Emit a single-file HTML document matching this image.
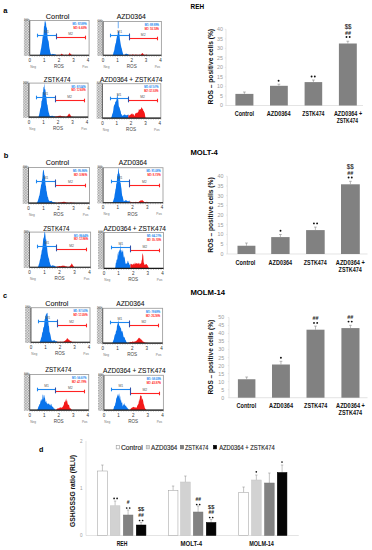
<!DOCTYPE html><html><head><meta charset="utf-8"><style>html,body{margin:0;padding:0;background:#fff;width:372px;height:550px;overflow:hidden;position:relative}svg text{font-family:"Liberation Sans",sans-serif}</style></head><body><svg width="372" height="550" viewBox="0 0 372 550" style="position:absolute;left:0;top:0">
<defs><pattern id="ylab" width="2.8" height="2.6" patternUnits="userSpaceOnUse"><rect width="2.8" height="2.6" fill="#e8e8e8"/><rect x="0.1" y="0.1" width="1.3" height="1.2" fill="#858585"/><rect x="1.5" y="1.4" width="1.2" height="1.1" fill="#909090"/></pattern></defs>
<rect width="372" height="550" fill="#fff"/>
<text x="3.2" y="12.9" font-size="7.8" fill="#000" text-anchor="start" font-weight="bold" textLength="4.2" lengthAdjust="spacingAndGlyphs">a</text>
<text x="3.8" y="158.4" font-size="7.8" fill="#000" text-anchor="start" font-weight="bold" textLength="4.6" lengthAdjust="spacingAndGlyphs">b</text>
<text x="3" y="297.9" font-size="7.8" fill="#000" text-anchor="start" font-weight="bold" textLength="4.1" lengthAdjust="spacingAndGlyphs">c</text>
<text x="38.9" y="451.8" font-size="7.8" fill="#000" text-anchor="start" font-weight="bold" textLength="4.4" lengthAdjust="spacingAndGlyphs">d</text>
<rect x="23.9" y="19" width="5.8" height="36.9" fill="url(#ylab)"/>
<text x="24.1" y="21.1" font-size="2.6" fill="#555" text-anchor="start" font-weight="normal">100</text>
<rect x="29.7" y="20.5" width="59.4" height="34.7" fill="#fff" stroke="#a0a0a0" stroke-width="0.9"/>
<path d="M29.7 55.2 L29.7 55.2 L30.1 55.2 L30.49 55.2 L30.89 55.2 L31.28 55.2 L31.68 55.2 L32.08 55.2 L32.47 55.2 L32.87 55.2 L33.26 55.2 L33.66 55.2 L34.06 55.2 L34.45 55.2 L34.85 55.2 L35.24 55.2 L35.64 55.2 L36.04 55.2 L36.43 55.2 L36.83 55.2 L37.22 55.2 L37.62 55.2 L38.02 55.2 L38.41 55.2 L38.81 55.2 L39.2 55.2 L39.6 55.2 L40 54.02 L40.39 51.71 L40.79 49.47 L41.18 47.94 L41.58 45.06 L41.98 42.65 L42.37 39.3 L42.77 35.9 L43.16 36.39 L43.56 34.19 L43.96 26.46 L44.35 26.12 L44.75 20.58 L45.14 23.83 L45.54 20.8 L45.94 21.7 L46.33 28.27 L46.73 26.57 L47.12 30.02 L47.52 37.33 L47.92 39.81 L48.31 40.38 L48.71 41.87 L49.1 45.91 L49.5 48.44 L49.9 50.21 L50.29 52.47 L50.69 53.77 L51.08 54.41 L51.48 54.44 L51.88 54.21 L52.27 54.2 L52.67 53.84 L53.06 54.04 L53.46 54.04 L53.86 54.26 L54.25 54.12 L54.65 54.42 L55.04 54.5 L55.44 54.56 L55.84 54.59 L56.13 55.12 L56.13 55.2Z" fill="#0a74ec"/>
<path d="M56.13 55.2 L56.13 55.12 L56.23 54.88 L56.63 55.07 L57.02 54.79 L57.42 55.11 L57.82 54.91 L58.21 54.82 L58.61 55 L59 54.97 L59.4 54.94 L59.8 54.79 L60.19 55 L60.59 54.82 L60.98 54.51 L61.38 53.55 L61.78 53.89 L62.17 54.07 L62.57 54.5 L62.96 54.78 L63.36 54.93 L63.76 54.69 L64.15 54.96 L64.55 55.06 L64.94 54.91 L65.34 54.76 L65.74 54.76 L66.13 54.71 L66.53 54.78 L66.92 54.91 L67.32 54.98 L67.72 55.17 L68.11 54.74 L68.51 54.77 L68.9 54.02 L69.3 53.38 L69.7 52.54 L70.09 53.27 L70.49 53.89 L70.88 54.17 L71.28 54.75 L71.68 54.8 L72.07 54.74 L72.47 55.16 L72.86 55.19 L73.26 55.19 L73.66 54.83 L74.05 55.14 L74.45 55.2 L74.84 55.2 L75.24 55.2 L75.64 55.2 L76.03 55.2 L76.43 55.2 L76.82 55.2 L77.22 55.2 L77.62 55.2 L78.01 55.2 L78.41 55.2 L78.8 55.2 L79.2 55.2 L79.6 55.2 L79.99 55.2 L80.39 55.2 L80.78 55.2 L81.18 55.2 L81.58 55.2 L81.97 55.2 L82.37 55.2 L82.76 55.2 L83.16 55.2 L83.56 55.2 L83.95 55.2 L84.35 55.2 L84.74 55.2 L85.14 55.2 L85.54 55.2 L85.93 55.2 L86.33 55.2 L86.72 55.2 L87.12 55.2 L87.52 55.2 L87.91 55.2 L88.31 55.2 L88.7 55.2 L89.1 55.2 L89.1 55.2Z" fill="#f41818"/>
<line x1="29.7" y1="20.5" x2="29.7" y2="55.2" stroke="#505050" stroke-width="0.8"/>
<line x1="29.7" y1="55.2" x2="89.1" y2="55.2" stroke="#1a1a1a" stroke-width="1.1"/>
<path d="M29.7 55.7V56.7M32.17 55.7V56.7M34.65 55.7V56.7M37.12 55.7V56.7M39.6 55.7V56.7M42.07 55.7V56.7M44.55 55.7V56.7M47.02 55.7V56.7M49.5 55.7V56.7M51.97 55.7V56.7M54.45 55.7V56.7M56.92 55.7V56.7M59.4 55.7V56.7M61.88 55.7V56.7M64.35 55.7V56.7M66.82 55.7V56.7M69.3 55.7V56.7M71.77 55.7V56.7M74.25 55.7V56.7M76.72 55.7V56.7M79.2 55.7V56.7M81.67 55.7V56.7M84.15 55.7V56.7M86.62 55.7V56.7M89.1 55.7V56.7" stroke="#555" stroke-width="0.4"/>
<line x1="37.5" y1="35.5" x2="56.5" y2="35.5" stroke="#1e88f0" stroke-width="1.1"/>
<line x1="37.5" y1="33.7" x2="37.5" y2="37.3" stroke="#1e88f0" stroke-width="1.1"/>
<line x1="56.5" y1="37.5" x2="85.5" y2="37.5" stroke="#ff2222" stroke-width="1.1"/>
<line x1="85.5" y1="35.7" x2="85.5" y2="39.3" stroke="#ff2222" stroke-width="1.1"/>
<line x1="56.5" y1="33.5" x2="56.5" y2="39.3" stroke="#3050a8" stroke-width="1.1"/>
<text x="46.63" y="32.9" font-size="3.4" fill="#555" text-anchor="middle" font-weight="normal">M1</text>
<text x="70.54" y="34.9" font-size="3.4" fill="#555" text-anchor="middle" font-weight="normal">M2</text>
<text x="86.7" y="25" font-size="2.9" fill="#1e88f0" text-anchor="end" font-weight="normal" textLength="14.2" lengthAdjust="spacingAndGlyphs" stroke="#1e88f0" stroke-width="0.12">M1: 92.89%</text>
<text x="86.7" y="28.7" font-size="2.9" fill="#ff2222" text-anchor="end" font-weight="normal" textLength="13.2" lengthAdjust="spacingAndGlyphs" stroke="#ff2222" stroke-width="0.12">M2: 6.63%</text>
<text x="29.7" y="61.8" font-size="4.5" fill="#333" text-anchor="middle" font-weight="normal">0</text>
<text x="44.3" y="61.8" font-size="4.5" fill="#333" text-anchor="middle" font-weight="normal">1</text>
<text x="58.9" y="61.8" font-size="4.5" fill="#333" text-anchor="middle" font-weight="normal">2</text>
<text x="73.5" y="61.8" font-size="4.5" fill="#333" text-anchor="middle" font-weight="normal">3</text>
<text x="88.1" y="61.8" font-size="4.5" fill="#333" text-anchor="middle" font-weight="normal">4</text>
<text x="33.1" y="67.6" font-size="3.2" fill="#777" text-anchor="middle" font-weight="normal">Neg</text>
<text x="58.9" y="68" font-size="4.6" fill="#444" text-anchor="middle" font-weight="normal">ROS</text>
<text x="85.1" y="67.6" font-size="3.2" fill="#777" text-anchor="middle" font-weight="normal">Pos</text>
<text x="45.8" y="19.2" font-size="7.8" fill="#111" text-anchor="start" font-weight="normal" textLength="23.6" lengthAdjust="spacingAndGlyphs" stroke="#111" stroke-width="0.08">Control</text>
<rect x="97.3" y="20" width="5.8" height="35.9" fill="url(#ylab)"/>
<text x="97.5" y="22.1" font-size="2.6" fill="#555" text-anchor="start" font-weight="normal">100</text>
<rect x="103.1" y="21.5" width="58.3" height="33.7" fill="#fff" stroke="#a0a0a0" stroke-width="0.9"/>
<path d="M103.1 55.2 L103.1 55.2 L103.49 55.2 L103.88 55.2 L104.27 55.2 L104.65 55.2 L105.04 55.2 L105.43 55.2 L105.82 55.2 L106.21 55.2 L106.6 55.2 L106.99 55.2 L107.38 55.2 L107.76 55.2 L108.15 55.2 L108.54 55.2 L108.93 55.2 L109.32 55.2 L109.71 55.2 L110.1 55.2 L110.48 55.2 L110.87 55.2 L111.26 55.2 L111.65 55.2 L112.04 55.2 L112.43 55.2 L112.82 55 L113.21 53.69 L113.59 52.14 L113.98 51.37 L114.37 49.87 L114.76 46.96 L115.15 45.27 L115.54 43.51 L115.93 42.69 L116.31 39.77 L116.7 37.74 L117.09 35.8 L117.48 35.85 L117.87 32.42 L118.26 30.57 L118.65 30.92 L119.04 31.87 L119.42 34.49 L119.81 38.45 L120.2 40.88 L120.59 43.41 L120.98 45.86 L121.37 47.57 L121.76 48.49 L122.14 50.42 L122.53 51.96 L122.92 53.22 L123.31 54.71 L123.7 54.78 L124.09 54.98 L124.48 54.69 L124.87 54.29 L125.25 54.22 L125.64 53.76 L126.03 53.7 L126.42 53.57 L126.81 53.96 L127.2 53.92 L127.59 54.03 L127.97 54.41 L128.36 54.46 L128.75 54.62 L129.04 55.1 L129.04 55.2Z" fill="#0a74ec"/>
<path d="M129.04 55.2 L129.04 55.1 L129.14 54.89 L129.53 54.55 L129.92 54.89 L130.31 54.78 L130.7 54.71 L131.08 55.05 L131.47 54.98 L131.86 54.77 L132.25 54.62 L132.64 54.61 L133.03 54.52 L133.42 54.86 L133.8 54.75 L134.19 54.99 L134.58 55.06 L134.97 54.82 L135.36 54.82 L135.75 54.62 L136.14 54.63 L136.53 54.75 L136.91 54.78 L137.3 55.05 L137.69 54.67 L138.08 54.82 L138.47 55.03 L138.86 55.06 L139.25 54.62 L139.63 54.77 L140.02 54.96 L140.41 55.08 L140.8 54.69 L141.19 54.13 L141.58 53.87 L141.97 53.44 L142.36 53.34 L142.74 53.11 L143.13 53.79 L143.52 54.41 L143.91 54.62 L144.3 54.75 L144.69 54.97 L145.08 55.18 L145.46 54.9 L145.85 54.65 L146.24 54.55 L146.63 54.59 L147.02 55.2 L147.41 55.2 L147.8 55.2 L148.19 55.2 L148.57 55.2 L148.96 55.2 L149.35 55.2 L149.74 55.2 L150.13 55.2 L150.52 55.2 L150.91 55.2 L151.29 55.2 L151.68 55.2 L152.07 55.2 L152.46 55.2 L152.85 55.2 L153.24 55.2 L153.63 55.2 L154.02 55.2 L154.4 55.2 L154.79 55.2 L155.18 55.2 L155.57 55.2 L155.96 55.2 L156.35 55.2 L156.74 55.2 L157.12 55.2 L157.51 55.2 L157.9 55.2 L158.29 55.2 L158.68 55.2 L159.07 55.2 L159.46 55.2 L159.85 55.2 L160.23 55.2 L160.62 55.2 L161.01 55.2 L161.4 55.2 L161.4 55.2Z" fill="#f41818"/>
<line x1="118.26" y1="21.5" x2="118.26" y2="28.24" stroke="#0a74ec" stroke-width="0.6"/>
<line x1="103.1" y1="21.5" x2="103.1" y2="55.2" stroke="#505050" stroke-width="0.8"/>
<line x1="103.1" y1="55.2" x2="161.4" y2="55.2" stroke="#1a1a1a" stroke-width="1.1"/>
<path d="M103.1 55.7V56.7M105.53 55.7V56.7M107.96 55.7V56.7M110.39 55.7V56.7M112.82 55.7V56.7M115.25 55.7V56.7M117.67 55.7V56.7M120.1 55.7V56.7M122.53 55.7V56.7M124.96 55.7V56.7M127.39 55.7V56.7M129.82 55.7V56.7M132.25 55.7V56.7M134.68 55.7V56.7M137.11 55.7V56.7M139.54 55.7V56.7M141.97 55.7V56.7M144.4 55.7V56.7M146.82 55.7V56.7M149.25 55.7V56.7M151.68 55.7V56.7M154.11 55.7V56.7M156.54 55.7V56.7M158.97 55.7V56.7M161.4 55.7V56.7" stroke="#555" stroke-width="0.4"/>
<line x1="110.5" y1="35.5" x2="129.5" y2="35.5" stroke="#1e88f0" stroke-width="1.1"/>
<line x1="110.5" y1="33.7" x2="110.5" y2="37.3" stroke="#1e88f0" stroke-width="1.1"/>
<line x1="129.5" y1="38.5" x2="157.5" y2="38.5" stroke="#ff2222" stroke-width="1.1"/>
<line x1="157.5" y1="36.7" x2="157.5" y2="40.3" stroke="#ff2222" stroke-width="1.1"/>
<line x1="129.5" y1="33.5" x2="129.5" y2="40.3" stroke="#3050a8" stroke-width="1.1"/>
<text x="119.72" y="32.9" font-size="3.4" fill="#555" text-anchor="middle" font-weight="normal">M1</text>
<text x="143.18" y="35.9" font-size="3.4" fill="#555" text-anchor="middle" font-weight="normal">M2</text>
<text x="159" y="26" font-size="2.9" fill="#1e88f0" text-anchor="end" font-weight="normal" textLength="14.2" lengthAdjust="spacingAndGlyphs" stroke="#1e88f0" stroke-width="0.12">M1: 89.89%</text>
<text x="159" y="29.7" font-size="2.9" fill="#ff2222" text-anchor="end" font-weight="normal" textLength="14.2" lengthAdjust="spacingAndGlyphs" stroke="#ff2222" stroke-width="0.12">M2: 10.10%</text>
<text x="103.1" y="61.8" font-size="4.5" fill="#333" text-anchor="middle" font-weight="normal">0</text>
<text x="117.42" y="61.8" font-size="4.5" fill="#333" text-anchor="middle" font-weight="normal">1</text>
<text x="131.75" y="61.8" font-size="4.5" fill="#333" text-anchor="middle" font-weight="normal">2</text>
<text x="146.07" y="61.8" font-size="4.5" fill="#333" text-anchor="middle" font-weight="normal">3</text>
<text x="160.4" y="61.8" font-size="4.5" fill="#333" text-anchor="middle" font-weight="normal">4</text>
<text x="106.5" y="67.6" font-size="3.2" fill="#777" text-anchor="middle" font-weight="normal">Neg</text>
<text x="131.75" y="68" font-size="4.6" fill="#444" text-anchor="middle" font-weight="normal">ROS</text>
<text x="157.4" y="67.6" font-size="3.2" fill="#777" text-anchor="middle" font-weight="normal">Pos</text>
<text x="116.8" y="19.3" font-size="7.8" fill="#111" text-anchor="start" font-weight="normal" textLength="29" lengthAdjust="spacingAndGlyphs" stroke="#111" stroke-width="0.08">AZD0364</text>
<rect x="23.1" y="81.6" width="5.8" height="36.2" fill="url(#ylab)"/>
<text x="23.3" y="83.7" font-size="2.6" fill="#555" text-anchor="start" font-weight="normal">100</text>
<rect x="28.9" y="83.1" width="59.2" height="34" fill="#fff" stroke="#a0a0a0" stroke-width="0.9"/>
<path d="M28.9 117.1 L28.9 117.1 L29.29 117.1 L29.69 117.1 L30.08 117.1 L30.48 117.1 L30.87 117.1 L31.27 117.1 L31.66 117.1 L32.06 117.1 L32.45 117.1 L32.85 117.1 L33.24 117.1 L33.64 117.1 L34.03 117.1 L34.43 117.1 L34.82 117.1 L35.21 117.1 L35.61 117.1 L36 117.1 L36.4 117.1 L36.79 117.1 L37.19 117.1 L37.58 117.1 L37.98 117.1 L38.37 117.1 L38.77 116.05 L39.16 114.41 L39.56 112.83 L39.95 110.62 L40.35 108.49 L40.74 107.7 L41.13 105.87 L41.53 100.85 L41.92 100.69 L42.32 98.5 L42.71 92.06 L43.11 92.33 L43.5 87.29 L43.9 87.02 L44.29 83.1 L44.69 89.51 L45.08 88.92 L45.48 90.39 L45.87 95.13 L46.27 96.77 L46.66 99.76 L47.05 104.41 L47.45 104.6 L47.84 107.43 L48.24 110.15 L48.63 112.37 L49.03 113.26 L49.42 115.18 L49.82 115.83 L50.21 115.94 L50.61 116.08 L51 115.89 L51.4 115.75 L51.79 116.08 L52.19 115.54 L52.58 115.92 L52.97 116.08 L53.37 116.25 L53.76 116.13 L54.16 116.17 L54.55 116.14 L54.95 116.5 L55.24 116.93 L55.24 117.1Z" fill="#0a74ec"/>
<path d="M55.24 117.1 L55.24 116.93 L55.34 116.27 L55.74 116.29 L56.13 116.4 L56.53 116.18 L56.92 116.55 L57.32 115.9 L57.71 116.42 L58.11 116.25 L58.5 116.11 L58.89 115.85 L59.29 115.94 L59.68 115.71 L60.08 115.32 L60.47 115.68 L60.87 116.15 L61.26 116.06 L61.66 116.29 L62.05 116.16 L62.45 116.49 L62.84 116.36 L63.24 116.14 L63.63 116.48 L64.03 116.42 L64.42 116.56 L64.81 116.39 L65.21 116.81 L65.6 116.64 L66 116.9 L66.39 116.41 L66.79 116.46 L67.18 116.05 L67.58 115.86 L67.97 115.23 L68.37 114.54 L68.76 114.08 L69.16 113.21 L69.55 114.4 L69.95 113.94 L70.34 115.15 L70.73 115.53 L71.13 116.18 L71.52 116.58 L71.92 116.9 L72.31 116.84 L72.71 116.63 L73.1 116.69 L73.5 117.1 L73.89 117.1 L74.29 117.1 L74.68 117.1 L75.08 117.1 L75.47 117.1 L75.87 117.1 L76.26 117.1 L76.65 117.1 L77.05 117.1 L77.44 117.1 L77.84 117.1 L78.23 117.1 L78.63 117.1 L79.02 117.1 L79.42 117.1 L79.81 117.1 L80.21 117.1 L80.6 117.1 L81 117.1 L81.39 117.1 L81.79 117.1 L82.18 117.1 L82.57 117.1 L82.97 117.1 L83.36 117.1 L83.76 117.1 L84.15 117.1 L84.55 117.1 L84.94 117.1 L85.34 117.1 L85.73 117.1 L86.13 117.1 L86.52 117.1 L86.92 117.1 L87.31 117.1 L87.71 117.1 L88.1 117.1 L88.1 117.1Z" fill="#f41818"/>
<line x1="28.9" y1="83.1" x2="28.9" y2="117.1" stroke="#505050" stroke-width="0.8"/>
<line x1="28.9" y1="117.1" x2="88.1" y2="117.1" stroke="#1a1a1a" stroke-width="1.1"/>
<path d="M28.9 117.6V118.6M31.37 117.6V118.6M33.83 117.6V118.6M36.3 117.6V118.6M38.77 117.6V118.6M41.23 117.6V118.6M43.7 117.6V118.6M46.17 117.6V118.6M48.63 117.6V118.6M51.1 117.6V118.6M53.57 117.6V118.6M56.03 117.6V118.6M58.5 117.6V118.6M60.97 117.6V118.6M63.43 117.6V118.6M65.9 117.6V118.6M68.37 117.6V118.6M70.83 117.6V118.6M73.3 117.6V118.6M75.77 117.6V118.6M78.23 117.6V118.6M80.7 117.6V118.6M83.17 117.6V118.6M85.63 117.6V118.6M88.1 117.6V118.6" stroke="#555" stroke-width="0.4"/>
<line x1="36.5" y1="97.5" x2="55.5" y2="97.5" stroke="#1e88f0" stroke-width="1.1"/>
<line x1="36.5" y1="95.7" x2="36.5" y2="99.3" stroke="#1e88f0" stroke-width="1.1"/>
<line x1="55.5" y1="100.5" x2="84.5" y2="100.5" stroke="#ff2222" stroke-width="1.1"/>
<line x1="84.5" y1="98.7" x2="84.5" y2="102.3" stroke="#ff2222" stroke-width="1.1"/>
<line x1="55.5" y1="95.5" x2="55.5" y2="102.3" stroke="#3050a8" stroke-width="1.1"/>
<text x="45.77" y="94.9" font-size="3.4" fill="#555" text-anchor="middle" font-weight="normal">M1</text>
<text x="69.6" y="97.9" font-size="3.4" fill="#555" text-anchor="middle" font-weight="normal">M2</text>
<text x="85.7" y="87.6" font-size="2.9" fill="#1e88f0" text-anchor="end" font-weight="normal" textLength="14.2" lengthAdjust="spacingAndGlyphs" stroke="#1e88f0" stroke-width="0.12">M1: 87.04%</text>
<text x="85.7" y="91.3" font-size="2.9" fill="#ff2222" text-anchor="end" font-weight="normal" textLength="14.2" lengthAdjust="spacingAndGlyphs" stroke="#ff2222" stroke-width="0.12">M2: 12.63%</text>
<text x="28.9" y="123.7" font-size="4.5" fill="#333" text-anchor="middle" font-weight="normal">0</text>
<text x="43.45" y="123.7" font-size="4.5" fill="#333" text-anchor="middle" font-weight="normal">1</text>
<text x="58" y="123.7" font-size="4.5" fill="#333" text-anchor="middle" font-weight="normal">2</text>
<text x="72.55" y="123.7" font-size="4.5" fill="#333" text-anchor="middle" font-weight="normal">3</text>
<text x="87.1" y="123.7" font-size="4.5" fill="#333" text-anchor="middle" font-weight="normal">4</text>
<text x="32.3" y="129.5" font-size="3.2" fill="#777" text-anchor="middle" font-weight="normal">Neg</text>
<text x="58" y="129.9" font-size="4.6" fill="#444" text-anchor="middle" font-weight="normal">ROS</text>
<text x="84.1" y="129.5" font-size="3.2" fill="#777" text-anchor="middle" font-weight="normal">Pos</text>
<text x="43.8" y="81.7" font-size="7.8" fill="#111" text-anchor="start" font-weight="normal" textLength="26.6" lengthAdjust="spacingAndGlyphs" stroke="#111" stroke-width="0.08">ZSTK474</text>
<rect x="96.6" y="82.2" width="5.8" height="36.6" fill="url(#ylab)"/>
<text x="96.8" y="84.3" font-size="2.6" fill="#555" text-anchor="start" font-weight="normal">100</text>
<rect x="102.4" y="83.7" width="58.4" height="34.4" fill="#fff" stroke="#a0a0a0" stroke-width="0.9"/>
<path d="M102.4 118.1 L102.4 118.1 L102.79 118.1 L103.18 118.1 L103.57 118.1 L103.96 118.1 L104.35 118.1 L104.74 118.1 L105.13 118.1 L105.51 118.1 L105.9 118.1 L106.29 118.1 L106.68 118.1 L107.07 118.1 L107.46 118.1 L107.85 118.1 L108.24 118.1 L108.63 118.1 L109.02 118.1 L109.41 118.1 L109.8 118.1 L110.19 118.1 L110.58 118.1 L110.97 118.1 L111.35 117.19 L111.74 116.13 L112.13 114.51 L112.52 113.62 L112.91 112.57 L113.3 110.2 L113.69 106.7 L114.08 105.39 L114.47 103.79 L114.86 105.17 L115.25 101.68 L115.64 101.87 L116.03 101.17 L116.42 100.28 L116.81 97.87 L117.19 93.08 L117.58 96.09 L117.97 98.39 L118.36 100.53 L118.75 105.97 L119.14 107.01 L119.53 107.39 L119.92 108.91 L120.31 110.49 L120.7 111.35 L121.09 113.9 L121.48 114.12 L121.87 115.28 L122.26 115.55 L122.65 115.73 L123.03 115.7 L123.42 114.66 L123.81 115.23 L124.2 114.78 L124.59 114.3 L124.98 114.79 L125.37 114.85 L125.76 115.13 L126.15 115.58 L126.54 115.02 L126.93 115.3 L127.32 115.12 L127.71 114.86 L128.1 114.72 L128.39 114.36 L128.39 118.1Z" fill="#0a74ec"/>
<path d="M128.39 118.1 L128.39 114.36 L128.49 114.78 L128.87 115.31 L129.26 115.21 L129.65 115.51 L130.04 115.15 L130.43 114.4 L130.82 114.61 L131.21 114.22 L131.6 113.65 L131.99 113.41 L132.38 113.6 L132.77 114.78 L133.16 114.28 L133.55 114.28 L133.94 114.67 L134.33 115.63 L134.71 115.9 L135.1 112.91 L135.49 113.95 L135.88 113.23 L136.27 112.6 L136.66 113.4 L137.05 112.56 L137.44 113 L137.83 112.34 L138.22 112.04 L138.61 110.69 L139 108.73 L139.39 109.83 L139.78 109.9 L140.17 109.34 L140.55 109.27 L140.94 108.94 L141.33 106.83 L141.72 108.06 L142.11 108.79 L142.5 109.56 L142.89 107.79 L143.28 111.35 L143.67 110.5 L144.06 111.87 L144.45 112.38 L144.84 113.69 L145.23 116.6 L145.62 118.1 L146.01 118.1 L146.39 118.1 L146.78 118.1 L147.17 118.1 L147.56 118.1 L147.95 118.1 L148.34 118.1 L148.73 118.1 L149.12 118.1 L149.51 118.1 L149.9 118.1 L150.29 118.1 L150.68 118.1 L151.07 118.1 L151.46 118.1 L151.85 118.1 L152.23 118.1 L152.62 118.1 L153.01 118.1 L153.4 118.1 L153.79 118.1 L154.18 118.1 L154.57 118.1 L154.96 118.1 L155.35 118.1 L155.74 118.1 L156.13 118.1 L156.52 118.1 L156.91 118.1 L157.3 118.1 L157.69 118.1 L158.07 118.1 L158.46 118.1 L158.85 118.1 L159.24 118.1 L159.63 118.1 L160.02 118.1 L160.41 118.1 L160.8 118.1 L160.8 118.1Z" fill="#f41818"/>
<line x1="102.4" y1="83.7" x2="102.4" y2="118.1" stroke="#505050" stroke-width="0.8"/>
<line x1="102.4" y1="118.1" x2="160.8" y2="118.1" stroke="#1a1a1a" stroke-width="1.1"/>
<path d="M102.4 118.6V119.6M104.83 118.6V119.6M107.27 118.6V119.6M109.7 118.6V119.6M112.13 118.6V119.6M114.57 118.6V119.6M117 118.6V119.6M119.43 118.6V119.6M121.87 118.6V119.6M124.3 118.6V119.6M126.73 118.6V119.6M129.17 118.6V119.6M131.6 118.6V119.6M134.03 118.6V119.6M136.47 118.6V119.6M138.9 118.6V119.6M141.33 118.6V119.6M143.77 118.6V119.6M146.2 118.6V119.6M148.63 118.6V119.6M151.07 118.6V119.6M153.5 118.6V119.6M155.93 118.6V119.6M158.37 118.6V119.6M160.8 118.6V119.6" stroke="#555" stroke-width="0.4"/>
<line x1="110.5" y1="98.5" x2="128.5" y2="98.5" stroke="#1e88f0" stroke-width="1.1"/>
<line x1="110.5" y1="96.7" x2="110.5" y2="100.3" stroke="#1e88f0" stroke-width="1.1"/>
<line x1="128.5" y1="100.5" x2="157.5" y2="100.5" stroke="#ff2222" stroke-width="1.1"/>
<line x1="157.5" y1="98.7" x2="157.5" y2="102.3" stroke="#ff2222" stroke-width="1.1"/>
<line x1="128.5" y1="96.5" x2="128.5" y2="102.3" stroke="#3050a8" stroke-width="1.1"/>
<text x="119.04" y="95.9" font-size="3.4" fill="#555" text-anchor="middle" font-weight="normal">M1</text>
<text x="142.55" y="97.9" font-size="3.4" fill="#555" text-anchor="middle" font-weight="normal">M2</text>
<text x="158.4" y="88.2" font-size="2.9" fill="#1e88f0" text-anchor="end" font-weight="normal" textLength="14.2" lengthAdjust="spacingAndGlyphs" stroke="#1e88f0" stroke-width="0.12">M1: 67.57%</text>
<text x="158.4" y="91.9" font-size="2.9" fill="#ff2222" text-anchor="end" font-weight="normal" textLength="14.2" lengthAdjust="spacingAndGlyphs" stroke="#ff2222" stroke-width="0.12">M2: 32.53%</text>
<text x="102.4" y="124.7" font-size="4.5" fill="#333" text-anchor="middle" font-weight="normal">0</text>
<text x="116.75" y="124.7" font-size="4.5" fill="#333" text-anchor="middle" font-weight="normal">1</text>
<text x="131.1" y="124.7" font-size="4.5" fill="#333" text-anchor="middle" font-weight="normal">2</text>
<text x="145.45" y="124.7" font-size="4.5" fill="#333" text-anchor="middle" font-weight="normal">3</text>
<text x="159.8" y="124.7" font-size="4.5" fill="#333" text-anchor="middle" font-weight="normal">4</text>
<text x="105.8" y="130.5" font-size="3.2" fill="#777" text-anchor="middle" font-weight="normal">Neg</text>
<text x="131.1" y="130.9" font-size="4.6" fill="#444" text-anchor="middle" font-weight="normal">ROS</text>
<text x="156.8" y="130.5" font-size="3.2" fill="#777" text-anchor="middle" font-weight="normal">Pos</text>
<text x="100" y="81.9" font-size="7.8" fill="#111" text-anchor="start" font-weight="normal" textLength="62.5" lengthAdjust="spacingAndGlyphs" stroke="#111" stroke-width="0.08">AZD0364 + ZSTK474</text>
<rect x="22.7" y="166" width="5.8" height="37.8" fill="url(#ylab)"/>
<text x="22.9" y="168.1" font-size="2.6" fill="#555" text-anchor="start" font-weight="normal">100</text>
<rect x="28.5" y="167.5" width="61" height="35.6" fill="#fff" stroke="#a0a0a0" stroke-width="0.9"/>
<path d="M28.5 203.1 L28.5 203.1 L28.91 203.1 L29.31 203.1 L29.72 203.1 L30.13 203.1 L30.53 203.1 L30.94 203.1 L31.35 203.1 L31.75 203.1 L32.16 203.1 L32.57 203.1 L32.97 203.1 L33.38 203.1 L33.79 203.1 L34.19 203.1 L34.6 203.1 L35.01 203.1 L35.41 203.1 L35.82 203.1 L36.23 203.1 L36.63 202.94 L37.04 202.45 L37.45 201.67 L37.85 200.63 L38.26 199.26 L38.67 197.93 L39.07 196 L39.48 195.53 L39.89 192.8 L40.29 189.42 L40.7 187.71 L41.11 184.18 L41.51 184.41 L41.92 180.07 L42.33 178.16 L42.73 173.31 L43.14 169.65 L43.55 170.1 L43.95 171.59 L44.36 174.93 L44.77 175.2 L45.17 179.65 L45.58 185.29 L45.99 185.92 L46.39 190.52 L46.8 191.7 L47.21 194.8 L47.61 196.75 L48.02 197.3 L48.43 199.32 L48.83 200.35 L49.24 200.77 L49.65 201.31 L50.05 201.13 L50.46 200.91 L50.87 201.1 L51.27 200.86 L51.68 201.12 L52.09 201.66 L52.49 201.95 L52.9 201.84 L53.31 202.18 L53.71 202.15 L54.12 201.91 L54.53 202.4 L54.93 202.33 L55.34 202.29 L55.64 203 L55.64 203.1Z" fill="#0a74ec"/>
<path d="M55.64 203.1 L55.64 203 L55.75 202.46 L56.15 203.09 L56.56 202.55 L56.97 202.73 L57.37 203.07 L57.78 202.97 L58.19 202.46 L58.59 202.52 L59 202.45 L59.41 202.75 L59.81 202.51 L60.22 202.72 L60.63 202.08 L61.03 202.55 L61.44 202.49 L61.85 201.91 L62.25 202.01 L62.66 201.9 L63.07 202 L63.47 202.08 L63.88 201.46 L64.29 202.17 L64.69 201.58 L65.1 202.15 L65.51 201.99 L65.91 202.27 L66.32 202.59 L66.73 202.74 L67.13 202.47 L67.54 202.86 L67.95 202.48 L68.35 202.63 L68.76 203.02 L69.17 202.79 L69.57 202.99 L69.98 202.52 L70.39 202.78 L70.79 202.34 L71.2 202.41 L71.61 202.75 L72.01 202.58 L72.42 202.89 L72.83 202.81 L73.23 203 L73.64 202.83 L74.05 202.33 L74.45 203.1 L74.86 203.1 L75.27 203.1 L75.67 203.1 L76.08 203.1 L76.49 203.1 L76.89 203.1 L77.3 203.1 L77.71 203.1 L78.11 203.1 L78.52 203.1 L78.93 203.1 L79.33 203.1 L79.74 203.1 L80.15 203.1 L80.55 203.1 L80.96 203.1 L81.37 203.1 L81.77 203.1 L82.18 203.1 L82.59 203.1 L82.99 203.1 L83.4 203.1 L83.81 203.1 L84.21 203.1 L84.62 203.1 L85.03 203.1 L85.43 203.1 L85.84 203.1 L86.25 203.1 L86.65 203.1 L87.06 203.1 L87.47 203.1 L87.87 203.1 L88.28 203.1 L88.69 203.1 L89.09 203.1 L89.5 203.1 L89.5 203.1Z" fill="#f41818"/>
<line x1="28.5" y1="167.5" x2="28.5" y2="203.1" stroke="#505050" stroke-width="0.8"/>
<line x1="28.5" y1="203.1" x2="89.5" y2="203.1" stroke="#1a1a1a" stroke-width="1.1"/>
<path d="M28.5 203.6V204.6M31.04 203.6V204.6M33.58 203.6V204.6M36.12 203.6V204.6M38.67 203.6V204.6M41.21 203.6V204.6M43.75 203.6V204.6M46.29 203.6V204.6M48.83 203.6V204.6M51.38 203.6V204.6M53.92 203.6V204.6M56.46 203.6V204.6M59 203.6V204.6M61.54 203.6V204.6M64.08 203.6V204.6M66.62 203.6V204.6M69.17 203.6V204.6M71.71 203.6V204.6M74.25 203.6V204.6M76.79 203.6V204.6M79.33 203.6V204.6M81.88 203.6V204.6M84.42 203.6V204.6M86.96 203.6V204.6M89.5 203.6V204.6" stroke="#555" stroke-width="0.4"/>
<line x1="36.5" y1="181.5" x2="55.5" y2="181.5" stroke="#1e88f0" stroke-width="1.1"/>
<line x1="36.5" y1="179.7" x2="36.5" y2="183.3" stroke="#1e88f0" stroke-width="1.1"/>
<line x1="55.5" y1="185.5" x2="85.5" y2="185.5" stroke="#ff2222" stroke-width="1.1"/>
<line x1="85.5" y1="183.7" x2="85.5" y2="187.3" stroke="#ff2222" stroke-width="1.1"/>
<line x1="55.5" y1="179.5" x2="55.5" y2="187.3" stroke="#3050a8" stroke-width="1.1"/>
<text x="45.88" y="178.9" font-size="3.4" fill="#555" text-anchor="middle" font-weight="normal">M1</text>
<text x="70.44" y="182.9" font-size="3.4" fill="#555" text-anchor="middle" font-weight="normal">M2</text>
<text x="87.1" y="172" font-size="2.9" fill="#1e88f0" text-anchor="end" font-weight="normal" textLength="14.2" lengthAdjust="spacingAndGlyphs" stroke="#1e88f0" stroke-width="0.12">M1: 95.96%</text>
<text x="87.1" y="175.7" font-size="2.9" fill="#ff2222" text-anchor="end" font-weight="normal" textLength="13.2" lengthAdjust="spacingAndGlyphs" stroke="#ff2222" stroke-width="0.12">M2: 3.96%</text>
<text x="28.5" y="209.7" font-size="4.5" fill="#333" text-anchor="middle" font-weight="normal">0</text>
<text x="43.5" y="209.7" font-size="4.5" fill="#333" text-anchor="middle" font-weight="normal">1</text>
<text x="58.5" y="209.7" font-size="4.5" fill="#333" text-anchor="middle" font-weight="normal">2</text>
<text x="73.5" y="209.7" font-size="4.5" fill="#333" text-anchor="middle" font-weight="normal">3</text>
<text x="88.5" y="209.7" font-size="4.5" fill="#333" text-anchor="middle" font-weight="normal">4</text>
<text x="31.9" y="215.5" font-size="3.2" fill="#777" text-anchor="middle" font-weight="normal">Neg</text>
<text x="58.5" y="215.9" font-size="4.6" fill="#444" text-anchor="middle" font-weight="normal">ROS</text>
<text x="85.5" y="215.5" font-size="3.2" fill="#777" text-anchor="middle" font-weight="normal">Pos</text>
<text x="45.8" y="164.9" font-size="7.8" fill="#111" text-anchor="start" font-weight="normal" textLength="23.2" lengthAdjust="spacingAndGlyphs" stroke="#111" stroke-width="0.08">Control</text>
<rect x="97.3" y="166.2" width="5.8" height="37.2" fill="url(#ylab)"/>
<text x="97.5" y="168.3" font-size="2.6" fill="#555" text-anchor="start" font-weight="normal">100</text>
<rect x="103.1" y="167.7" width="59.9" height="35" fill="#fff" stroke="#a0a0a0" stroke-width="0.9"/>
<path d="M103.1 202.7 L103.1 202.7 L103.5 202.7 L103.9 202.7 L104.3 202.7 L104.7 202.7 L105.1 202.7 L105.5 202.7 L105.9 202.7 L106.29 202.7 L106.69 202.7 L107.09 202.7 L107.49 202.7 L107.89 202.7 L108.29 202.7 L108.69 202.7 L109.09 202.7 L109.49 202.7 L109.89 202.7 L110.29 202.7 L110.69 202.7 L111.09 202.7 L111.49 202.7 L111.89 202.7 L112.28 202.7 L112.68 202.29 L113.08 201.22 L113.48 200.06 L113.88 198.77 L114.28 197.57 L114.68 194.28 L115.08 192.58 L115.48 189.16 L115.88 188.2 L116.28 183.53 L116.68 183.57 L117.08 177.12 L117.48 174.36 L117.88 173.77 L118.27 169.33 L118.67 167.7 L119.07 173.26 L119.47 173.62 L119.87 175.45 L120.27 182.72 L120.67 182.73 L121.07 186.52 L121.47 188.86 L121.87 193.21 L122.27 195.98 L122.67 196.61 L123.07 198.53 L123.47 200.34 L123.87 201.43 L124.26 201.11 L124.66 200.71 L125.06 200.7 L125.46 200.4 L125.86 199.75 L126.26 200.55 L126.66 200.39 L127.06 200.75 L127.46 201.16 L127.86 201.36 L128.26 201.45 L128.66 201.01 L129.06 200.45 L129.46 200.83 L129.76 201.47 L129.76 202.7Z" fill="#0a74ec"/>
<path d="M129.76 202.7 L129.76 201.47 L129.86 201.59 L130.25 201.23 L130.65 202.64 L131.05 202 L131.45 202.35 L131.85 201.72 L132.25 202.38 L132.65 202.32 L133.05 202.57 L133.45 201.79 L133.85 202.22 L134.25 202.22 L134.65 202.44 L135.05 201.55 L135.45 201.91 L135.85 202.18 L136.24 201.86 L136.64 202.18 L137.04 202.32 L137.44 201.97 L137.84 201.96 L138.24 202.21 L138.64 201.93 L139.04 201.57 L139.44 200.96 L139.84 201.19 L140.24 200.18 L140.64 200.7 L141.04 200.5 L141.44 200.43 L141.84 200.2 L142.23 200.12 L142.63 200.47 L143.03 201.04 L143.43 201.39 L143.83 201 L144.23 202.06 L144.63 202.1 L145.03 202.67 L145.43 201.98 L145.83 201.98 L146.23 201.61 L146.63 202.63 L147.03 202.5 L147.43 201.67 L147.83 202.22 L148.22 202.7 L148.62 202.7 L149.02 202.7 L149.42 202.7 L149.82 202.7 L150.22 202.7 L150.62 202.7 L151.02 202.7 L151.42 202.7 L151.82 202.7 L152.22 202.7 L152.62 202.7 L153.02 202.7 L153.42 202.7 L153.82 202.7 L154.21 202.7 L154.61 202.7 L155.01 202.7 L155.41 202.7 L155.81 202.7 L156.21 202.7 L156.61 202.7 L157.01 202.7 L157.41 202.7 L157.81 202.7 L158.21 202.7 L158.61 202.7 L159.01 202.7 L159.41 202.7 L159.81 202.7 L160.2 202.7 L160.6 202.7 L161 202.7 L161.4 202.7 L161.8 202.7 L162.2 202.7 L162.6 202.7 L163 202.7 L163 202.7Z" fill="#f41818"/>
<line x1="103.1" y1="167.7" x2="103.1" y2="202.7" stroke="#505050" stroke-width="0.8"/>
<line x1="103.1" y1="202.7" x2="163" y2="202.7" stroke="#1a1a1a" stroke-width="1.1"/>
<path d="M103.1 203.2V204.2M105.6 203.2V204.2M108.09 203.2V204.2M110.59 203.2V204.2M113.08 203.2V204.2M115.58 203.2V204.2M118.07 203.2V204.2M120.57 203.2V204.2M123.07 203.2V204.2M125.56 203.2V204.2M128.06 203.2V204.2M130.55 203.2V204.2M133.05 203.2V204.2M135.55 203.2V204.2M138.04 203.2V204.2M140.54 203.2V204.2M143.03 203.2V204.2M145.53 203.2V204.2M148.03 203.2V204.2M150.52 203.2V204.2M153.02 203.2V204.2M155.51 203.2V204.2M158.01 203.2V204.2M160.5 203.2V204.2M163 203.2V204.2" stroke="#555" stroke-width="0.4"/>
<line x1="111.5" y1="181.5" x2="129.5" y2="181.5" stroke="#1e88f0" stroke-width="1.1"/>
<line x1="111.5" y1="179.7" x2="111.5" y2="183.3" stroke="#1e88f0" stroke-width="1.1"/>
<line x1="129.5" y1="185.5" x2="159.5" y2="185.5" stroke="#ff2222" stroke-width="1.1"/>
<line x1="159.5" y1="183.7" x2="159.5" y2="187.3" stroke="#ff2222" stroke-width="1.1"/>
<line x1="129.5" y1="179.5" x2="129.5" y2="187.3" stroke="#3050a8" stroke-width="1.1"/>
<text x="120.17" y="178.9" font-size="3.4" fill="#555" text-anchor="middle" font-weight="normal">M1</text>
<text x="144.28" y="182.9" font-size="3.4" fill="#555" text-anchor="middle" font-weight="normal">M2</text>
<text x="160.6" y="172.2" font-size="2.9" fill="#1e88f0" text-anchor="end" font-weight="normal" textLength="14.2" lengthAdjust="spacingAndGlyphs" stroke="#1e88f0" stroke-width="0.12">M1: 91.08%</text>
<text x="160.6" y="175.9" font-size="2.9" fill="#ff2222" text-anchor="end" font-weight="normal" textLength="13.2" lengthAdjust="spacingAndGlyphs" stroke="#ff2222" stroke-width="0.12">M2: 8.73%</text>
<text x="103.1" y="209.3" font-size="4.5" fill="#333" text-anchor="middle" font-weight="normal">0</text>
<text x="117.82" y="209.3" font-size="4.5" fill="#333" text-anchor="middle" font-weight="normal">1</text>
<text x="132.55" y="209.3" font-size="4.5" fill="#333" text-anchor="middle" font-weight="normal">2</text>
<text x="147.28" y="209.3" font-size="4.5" fill="#333" text-anchor="middle" font-weight="normal">3</text>
<text x="162" y="209.3" font-size="4.5" fill="#333" text-anchor="middle" font-weight="normal">4</text>
<text x="106.5" y="215.1" font-size="3.2" fill="#777" text-anchor="middle" font-weight="normal">Neg</text>
<text x="132.55" y="215.5" font-size="4.6" fill="#444" text-anchor="middle" font-weight="normal">ROS</text>
<text x="159" y="215.1" font-size="3.2" fill="#777" text-anchor="middle" font-weight="normal">Pos</text>
<text x="118.8" y="165.3" font-size="7.8" fill="#111" text-anchor="start" font-weight="normal" textLength="28.2" lengthAdjust="spacingAndGlyphs" stroke="#111" stroke-width="0.08">AZD0364</text>
<rect x="23.7" y="230.6" width="5.8" height="37.4" fill="url(#ylab)"/>
<text x="23.9" y="232.7" font-size="2.6" fill="#555" text-anchor="start" font-weight="normal">100</text>
<rect x="29.5" y="232.1" width="61.1" height="35.2" fill="#fff" stroke="#a0a0a0" stroke-width="0.9"/>
<path d="M29.5 267.3 L29.5 267.3 L29.91 267.3 L30.31 267.3 L30.72 267.3 L31.13 267.3 L31.54 267.3 L31.94 267.3 L32.35 267.3 L32.76 267.3 L33.17 267.3 L33.57 267.3 L33.98 267.3 L34.39 267.3 L34.8 267.3 L35.2 267.3 L35.61 267.3 L36.02 267.3 L36.42 267.3 L36.83 267.3 L37.24 267.3 L37.65 267.28 L38.05 266.69 L38.46 265.79 L38.87 264.26 L39.28 263.31 L39.68 261.09 L40.09 259.52 L40.5 258.28 L40.91 254.99 L41.31 254.3 L41.72 250.48 L42.13 249.64 L42.53 247.1 L42.94 242.53 L43.35 236.92 L43.76 238.91 L44.16 235.22 L44.57 232.1 L44.98 232.1 L45.39 235.13 L45.79 239.69 L46.2 239.25 L46.61 247.56 L47.02 246.38 L47.42 251.51 L47.83 254.35 L48.24 256.54 L48.64 258.05 L49.05 259 L49.46 261.82 L49.87 262.85 L50.27 264.16 L50.68 265.35 L51.09 265.79 L51.5 265.92 L51.9 265.38 L52.31 265.37 L52.72 265.49 L53.13 265.26 L53.53 265.75 L53.94 265.63 L54.35 265.87 L54.75 265.93 L55.16 266.16 L55.57 266.5 L55.98 266.67 L56.38 266.43 L56.69 266.95 L56.69 267.3Z" fill="#0a74ec"/>
<path d="M56.69 267.3 L56.69 266.95 L56.79 266.55 L57.2 266.45 L57.61 266.48 L58.01 266.13 L58.42 266.28 L58.83 266.4 L59.24 265.9 L59.64 265.95 L60.05 265.98 L60.46 266.17 L60.86 266.13 L61.27 265.93 L61.68 266 L62.09 265.58 L62.49 265.89 L62.9 265.53 L63.31 265.44 L63.72 265.97 L64.12 265.84 L64.53 265.85 L64.94 266.27 L65.35 266.25 L65.75 266.21 L66.16 266.56 L66.57 266.45 L66.97 266.24 L67.38 266.67 L67.79 266.98 L68.2 266.79 L68.6 266.81 L69.01 266.91 L69.42 266.61 L69.83 266.29 L70.23 265.71 L70.64 265.2 L71.05 264.79 L71.46 264.02 L71.86 263.18 L72.27 264.29 L72.68 265.06 L73.08 265.79 L73.49 265.91 L73.9 266.84 L74.31 267.25 L74.71 267.25 L75.12 267.12 L75.53 267.3 L75.94 267.3 L76.34 267.3 L76.75 267.3 L77.16 267.3 L77.57 267.3 L77.97 267.3 L78.38 267.3 L78.79 267.3 L79.19 267.3 L79.6 267.3 L80.01 267.3 L80.42 267.3 L80.82 267.3 L81.23 267.3 L81.64 267.3 L82.05 267.3 L82.45 267.3 L82.86 267.3 L83.27 267.3 L83.68 267.3 L84.08 267.3 L84.49 267.3 L84.9 267.3 L85.3 267.3 L85.71 267.3 L86.12 267.3 L86.53 267.3 L86.93 267.3 L87.34 267.3 L87.75 267.3 L88.16 267.3 L88.56 267.3 L88.97 267.3 L89.38 267.3 L89.79 267.3 L90.19 267.3 L90.6 267.3 L90.6 267.3Z" fill="#f41818"/>
<line x1="29.5" y1="232.1" x2="29.5" y2="267.3" stroke="#505050" stroke-width="0.8"/>
<line x1="29.5" y1="267.3" x2="90.6" y2="267.3" stroke="#1a1a1a" stroke-width="1.1"/>
<path d="M29.5 267.8V268.8M32.05 267.8V268.8M34.59 267.8V268.8M37.14 267.8V268.8M39.68 267.8V268.8M42.23 267.8V268.8M44.77 267.8V268.8M47.32 267.8V268.8M49.87 267.8V268.8M52.41 267.8V268.8M54.96 267.8V268.8M57.5 267.8V268.8M60.05 267.8V268.8M62.6 267.8V268.8M65.14 267.8V268.8M67.69 267.8V268.8M70.23 267.8V268.8M72.78 267.8V268.8M75.32 267.8V268.8M77.87 267.8V268.8M80.42 267.8V268.8M82.96 267.8V268.8M85.51 267.8V268.8M88.05 267.8V268.8M90.6 267.8V268.8" stroke="#555" stroke-width="0.4"/>
<line x1="37.5" y1="246.5" x2="56.5" y2="246.5" stroke="#1e88f0" stroke-width="1.1"/>
<line x1="37.5" y1="244.7" x2="37.5" y2="248.3" stroke="#1e88f0" stroke-width="1.1"/>
<line x1="56.5" y1="249.5" x2="86.5" y2="249.5" stroke="#ff2222" stroke-width="1.1"/>
<line x1="86.5" y1="247.7" x2="86.5" y2="251.3" stroke="#ff2222" stroke-width="1.1"/>
<line x1="56.5" y1="244.5" x2="56.5" y2="251.3" stroke="#3050a8" stroke-width="1.1"/>
<text x="46.91" y="243.9" font-size="3.4" fill="#555" text-anchor="middle" font-weight="normal">M1</text>
<text x="71.51" y="246.9" font-size="3.4" fill="#555" text-anchor="middle" font-weight="normal">M2</text>
<text x="88.2" y="236.6" font-size="2.9" fill="#1e88f0" text-anchor="end" font-weight="normal" textLength="14.2" lengthAdjust="spacingAndGlyphs" stroke="#1e88f0" stroke-width="0.12">M1: 86.64%</text>
<text x="88.2" y="240.3" font-size="2.9" fill="#ff2222" text-anchor="end" font-weight="normal" textLength="14.2" lengthAdjust="spacingAndGlyphs" stroke="#ff2222" stroke-width="0.12">M2: 12.96%</text>
<text x="29.5" y="273.9" font-size="4.5" fill="#333" text-anchor="middle" font-weight="normal">0</text>
<text x="44.52" y="273.9" font-size="4.5" fill="#333" text-anchor="middle" font-weight="normal">1</text>
<text x="59.55" y="273.9" font-size="4.5" fill="#333" text-anchor="middle" font-weight="normal">2</text>
<text x="74.57" y="273.9" font-size="4.5" fill="#333" text-anchor="middle" font-weight="normal">3</text>
<text x="89.6" y="273.9" font-size="4.5" fill="#333" text-anchor="middle" font-weight="normal">4</text>
<text x="32.9" y="279.7" font-size="3.2" fill="#777" text-anchor="middle" font-weight="normal">Neg</text>
<text x="59.55" y="280.1" font-size="4.6" fill="#444" text-anchor="middle" font-weight="normal">ROS</text>
<text x="86.6" y="279.7" font-size="3.2" fill="#777" text-anchor="middle" font-weight="normal">Pos</text>
<text x="43.2" y="230.9" font-size="7.8" fill="#111" text-anchor="start" font-weight="normal" textLength="26.2" lengthAdjust="spacingAndGlyphs" stroke="#111" stroke-width="0.08">ZSTK474</text>
<rect x="98.1" y="231" width="5.8" height="38.1" fill="url(#ylab)"/>
<text x="98.3" y="233.1" font-size="2.6" fill="#555" text-anchor="start" font-weight="normal">100</text>
<rect x="103.9" y="232.5" width="59.6" height="35.9" fill="#fff" stroke="#a0a0a0" stroke-width="0.9"/>
<path d="M103.9 268.4 L103.9 268.4 L104.3 268.4 L104.69 268.4 L105.09 268.4 L105.49 268.4 L105.89 268.4 L106.28 268.4 L106.68 268.4 L107.08 268.4 L107.48 268.4 L107.87 268.4 L108.27 268.4 L108.67 268.4 L109.07 268.4 L109.46 268.4 L109.86 268.4 L110.26 268.4 L110.65 268.4 L111.05 268.4 L111.45 268.4 L111.85 268.4 L112.24 268.4 L112.64 268.4 L113.04 268.4 L113.44 268.4 L113.83 268.4 L114.23 268.4 L114.63 268.4 L115.03 268.4 L115.42 266.51 L115.82 262.83 L116.22 262.87 L116.61 259.27 L117.01 260.24 L117.41 258.19 L117.81 252.65 L118.2 255.95 L118.6 251.85 L119 251.86 L119.4 250.71 L119.79 249.19 L120.19 250.75 L120.59 242.67 L120.99 250.6 L121.38 250.02 L121.78 252.78 L122.18 251.6 L122.57 251.55 L122.97 249.19 L123.37 254.2 L123.77 257.14 L124.16 257.66 L124.56 255.88 L124.96 259.83 L125.36 262.56 L125.75 263.97 L126.15 263.53 L126.55 263.18 L126.95 263.96 L127.34 262.49 L127.74 260.81 L128.14 261.01 L128.53 262.99 L128.93 262.63 L129.33 264.51 L129.73 265.2 L130.12 263.45 L130.42 264 L130.42 268.4Z" fill="#0a74ec"/>
<path d="M130.42 268.4 L130.42 264 L130.52 263.98 L130.92 264.74 L131.32 264.26 L131.71 263.86 L132.11 264.24 L132.51 264.83 L132.91 264.49 L133.3 264.18 L133.7 263.22 L134.1 264.41 L134.49 264.32 L134.89 262.47 L135.29 262.79 L135.69 264.37 L136.08 263.53 L136.48 263.21 L136.88 263.25 L137.28 263.29 L137.67 263.64 L138.07 264.16 L138.47 263.22 L138.87 262.65 L139.26 262.94 L139.66 264.41 L140.06 264.3 L140.45 263.44 L140.85 263.51 L141.25 262.92 L141.65 260.44 L142.04 259.32 L142.44 252.94 L142.84 254.37 L143.24 255.73 L143.63 262.14 L144.03 263.25 L144.43 265.07 L144.83 264.45 L145.22 265.27 L145.62 263.9 L146.02 264.04 L146.41 263.96 L146.81 264.4 L147.21 265.26 L147.61 265.2 L148 266.67 L148.4 266.87 L148.8 268.4 L149.2 268.4 L149.59 268.4 L149.99 268.4 L150.39 268.4 L150.79 268.4 L151.18 268.4 L151.58 268.4 L151.98 268.4 L152.37 268.4 L152.77 268.4 L153.17 268.4 L153.57 268.4 L153.96 268.4 L154.36 268.4 L154.76 268.4 L155.16 268.4 L155.55 268.4 L155.95 268.4 L156.35 268.4 L156.75 268.4 L157.14 268.4 L157.54 268.4 L157.94 268.4 L158.33 268.4 L158.73 268.4 L159.13 268.4 L159.53 268.4 L159.92 268.4 L160.32 268.4 L160.72 268.4 L161.12 268.4 L161.51 268.4 L161.91 268.4 L162.31 268.4 L162.71 268.4 L163.1 268.4 L163.5 268.4 L163.5 268.4Z" fill="#f41818"/>
<line x1="103.9" y1="232.5" x2="103.9" y2="268.4" stroke="#505050" stroke-width="0.8"/>
<line x1="103.9" y1="268.4" x2="163.5" y2="268.4" stroke="#1a1a1a" stroke-width="1.1"/>
<path d="M103.9 268.9V269.9M106.38 268.9V269.9M108.87 268.9V269.9M111.35 268.9V269.9M113.83 268.9V269.9M116.32 268.9V269.9M118.8 268.9V269.9M121.28 268.9V269.9M123.77 268.9V269.9M126.25 268.9V269.9M128.73 268.9V269.9M131.22 268.9V269.9M133.7 268.9V269.9M136.18 268.9V269.9M138.67 268.9V269.9M141.15 268.9V269.9M143.63 268.9V269.9M146.12 268.9V269.9M148.6 268.9V269.9M151.08 268.9V269.9M153.57 268.9V269.9M156.05 268.9V269.9M158.53 268.9V269.9M161.02 268.9V269.9M163.5 268.9V269.9" stroke="#555" stroke-width="0.4"/>
<line x1="111.5" y1="247.5" x2="130.5" y2="247.5" stroke="#1e88f0" stroke-width="1.1"/>
<line x1="111.5" y1="245.7" x2="111.5" y2="249.3" stroke="#1e88f0" stroke-width="1.1"/>
<line x1="130.5" y1="250.5" x2="159.5" y2="250.5" stroke="#ff2222" stroke-width="1.1"/>
<line x1="159.5" y1="248.7" x2="159.5" y2="252.3" stroke="#ff2222" stroke-width="1.1"/>
<line x1="130.5" y1="245.5" x2="130.5" y2="252.3" stroke="#3050a8" stroke-width="1.1"/>
<text x="120.89" y="244.9" font-size="3.4" fill="#555" text-anchor="middle" font-weight="normal">M1</text>
<text x="144.88" y="247.9" font-size="3.4" fill="#555" text-anchor="middle" font-weight="normal">M2</text>
<text x="161.1" y="237" font-size="2.9" fill="#1e88f0" text-anchor="end" font-weight="normal" textLength="14.2" lengthAdjust="spacingAndGlyphs" stroke="#1e88f0" stroke-width="0.12">M1: 64.27%</text>
<text x="161.1" y="240.7" font-size="2.9" fill="#ff2222" text-anchor="end" font-weight="normal" textLength="14.2" lengthAdjust="spacingAndGlyphs" stroke="#ff2222" stroke-width="0.12">M2: 35.70%</text>
<text x="103.9" y="275" font-size="4.5" fill="#333" text-anchor="middle" font-weight="normal">0</text>
<text x="118.55" y="275" font-size="4.5" fill="#333" text-anchor="middle" font-weight="normal">1</text>
<text x="133.2" y="275" font-size="4.5" fill="#333" text-anchor="middle" font-weight="normal">2</text>
<text x="147.85" y="275" font-size="4.5" fill="#333" text-anchor="middle" font-weight="normal">3</text>
<text x="162.5" y="275" font-size="4.5" fill="#333" text-anchor="middle" font-weight="normal">4</text>
<text x="107.3" y="280.8" font-size="3.2" fill="#777" text-anchor="middle" font-weight="normal">Neg</text>
<text x="133.2" y="281.2" font-size="4.6" fill="#444" text-anchor="middle" font-weight="normal">ROS</text>
<text x="159.5" y="280.8" font-size="3.2" fill="#777" text-anchor="middle" font-weight="normal">Pos</text>
<text x="103.5" y="231.3" font-size="7.8" fill="#111" text-anchor="start" font-weight="normal" textLength="62.5" lengthAdjust="spacingAndGlyphs" stroke="#111" stroke-width="0.08">AZD0364 + ZSTK474</text>
<rect x="25.1" y="306.2" width="5.8" height="36.8" fill="url(#ylab)"/>
<text x="25.3" y="308.3" font-size="2.6" fill="#555" text-anchor="start" font-weight="normal">100</text>
<rect x="30.9" y="307.7" width="59.1" height="34.6" fill="#fff" stroke="#a0a0a0" stroke-width="0.9"/>
<path d="M30.9 342.3 L30.9 342.3 L31.29 342.3 L31.69 342.3 L32.08 342.3 L32.48 342.3 L32.87 342.3 L33.26 342.3 L33.66 342.3 L34.05 342.3 L34.45 342.3 L34.84 342.3 L35.23 342.3 L35.63 342.3 L36.02 342.3 L36.42 342.3 L36.81 342.3 L37.2 342.3 L37.6 342.3 L37.99 342.3 L38.39 342.3 L38.78 342.3 L39.17 342.3 L39.57 342.22 L39.96 341.52 L40.36 340.56 L40.75 339.6 L41.14 337.41 L41.54 337.26 L41.93 334.74 L42.33 331.89 L42.72 332.56 L43.11 329.01 L43.51 326.67 L43.9 327.47 L44.3 323.62 L44.69 319.35 L45.08 318.69 L45.48 314.19 L45.87 316.48 L46.27 313.46 L46.66 313.68 L47.05 313.04 L47.45 312.87 L47.84 318.55 L48.24 320.41 L48.63 325.45 L49.02 326.4 L49.42 331.47 L49.81 332.86 L50.21 333.89 L50.6 335.8 L50.99 338.02 L51.39 339.75 L51.78 340.49 L52.18 340.84 L52.57 340.71 L52.96 340.43 L53.36 340.42 L53.75 340.61 L54.15 340.2 L54.54 340.56 L54.93 340.3 L55.33 341.18 L55.72 341.23 L56.12 341.56 L56.51 341.06 L56.9 341.44 L57.2 341.9 L57.2 342.3Z" fill="#0a74ec"/>
<path d="M57.2 342.3 L57.2 341.9 L57.3 341.49 L57.69 341.66 L58.09 341.64 L58.48 342.25 L58.87 341.8 L59.27 342.17 L59.66 342.07 L60.06 341.31 L60.45 342.2 L60.84 341.61 L61.24 342.1 L61.63 341.84 L62.03 341.98 L62.42 341.7 L62.81 341.71 L63.21 342 L63.6 341.43 L64 341.55 L64.39 340.7 L64.78 341.13 L65.18 340.62 L65.57 340.32 L65.97 340.1 L66.36 339.49 L66.75 339.08 L67.15 337.83 L67.54 338.54 L67.94 339.07 L68.33 339.67 L68.72 339.36 L69.12 339.83 L69.51 340.26 L69.91 340.65 L70.3 341.17 L70.69 340.79 L71.09 340.69 L71.48 341.54 L71.88 342.09 L72.27 342.12 L72.66 341.96 L73.06 341.7 L73.45 341.99 L73.85 342.18 L74.24 341.87 L74.63 342.23 L75.03 341.79 L75.42 342.3 L75.82 342.3 L76.21 342.3 L76.6 342.3 L77 342.3 L77.39 342.3 L77.79 342.3 L78.18 342.3 L78.57 342.3 L78.97 342.3 L79.36 342.3 L79.76 342.3 L80.15 342.3 L80.54 342.3 L80.94 342.3 L81.33 342.3 L81.73 342.3 L82.12 342.3 L82.51 342.3 L82.91 342.3 L83.3 342.3 L83.7 342.3 L84.09 342.3 L84.48 342.3 L84.88 342.3 L85.27 342.3 L85.67 342.3 L86.06 342.3 L86.45 342.3 L86.85 342.3 L87.24 342.3 L87.64 342.3 L88.03 342.3 L88.42 342.3 L88.82 342.3 L89.21 342.3 L89.61 342.3 L90 342.3 L90 342.3Z" fill="#f41818"/>
<line x1="30.9" y1="307.7" x2="30.9" y2="342.3" stroke="#505050" stroke-width="0.8"/>
<line x1="30.9" y1="342.3" x2="90" y2="342.3" stroke="#1a1a1a" stroke-width="1.1"/>
<path d="M30.9 342.8V343.8M33.36 342.8V343.8M35.82 342.8V343.8M38.29 342.8V343.8M40.75 342.8V343.8M43.21 342.8V343.8M45.67 342.8V343.8M48.14 342.8V343.8M50.6 342.8V343.8M53.06 342.8V343.8M55.52 342.8V343.8M57.99 342.8V343.8M60.45 342.8V343.8M62.91 342.8V343.8M65.38 342.8V343.8M67.84 342.8V343.8M70.3 342.8V343.8M72.76 342.8V343.8M75.22 342.8V343.8M77.69 342.8V343.8M80.15 342.8V343.8M82.61 342.8V343.8M85.08 342.8V343.8M87.54 342.8V343.8M90 342.8V343.8" stroke="#555" stroke-width="0.4"/>
<line x1="38.5" y1="321.5" x2="57.5" y2="321.5" stroke="#1e88f0" stroke-width="1.1"/>
<line x1="38.5" y1="319.7" x2="38.5" y2="323.3" stroke="#1e88f0" stroke-width="1.1"/>
<line x1="57.5" y1="325.5" x2="86.5" y2="325.5" stroke="#ff2222" stroke-width="1.1"/>
<line x1="86.5" y1="323.7" x2="86.5" y2="327.3" stroke="#ff2222" stroke-width="1.1"/>
<line x1="57.5" y1="319.5" x2="57.5" y2="327.3" stroke="#3050a8" stroke-width="1.1"/>
<text x="47.74" y="318.9" font-size="3.4" fill="#555" text-anchor="middle" font-weight="normal">M1</text>
<text x="71.53" y="322.9" font-size="3.4" fill="#555" text-anchor="middle" font-weight="normal">M2</text>
<text x="87.6" y="312.2" font-size="2.9" fill="#1e88f0" text-anchor="end" font-weight="normal" textLength="14.2" lengthAdjust="spacingAndGlyphs" stroke="#1e88f0" stroke-width="0.12">M1: 87.53%</text>
<text x="87.6" y="315.9" font-size="2.9" fill="#ff2222" text-anchor="end" font-weight="normal" textLength="14.2" lengthAdjust="spacingAndGlyphs" stroke="#ff2222" stroke-width="0.12">M2: 12.05%</text>
<text x="30.9" y="348.9" font-size="4.5" fill="#333" text-anchor="middle" font-weight="normal">0</text>
<text x="45.42" y="348.9" font-size="4.5" fill="#333" text-anchor="middle" font-weight="normal">1</text>
<text x="59.95" y="348.9" font-size="4.5" fill="#333" text-anchor="middle" font-weight="normal">2</text>
<text x="74.47" y="348.9" font-size="4.5" fill="#333" text-anchor="middle" font-weight="normal">3</text>
<text x="89" y="348.9" font-size="4.5" fill="#333" text-anchor="middle" font-weight="normal">4</text>
<text x="34.3" y="354.7" font-size="3.2" fill="#777" text-anchor="middle" font-weight="normal">Neg</text>
<text x="59.95" y="355.1" font-size="4.6" fill="#444" text-anchor="middle" font-weight="normal">ROS</text>
<text x="86" y="354.7" font-size="3.2" fill="#777" text-anchor="middle" font-weight="normal">Pos</text>
<text x="45.2" y="305.9" font-size="7.8" fill="#111" text-anchor="start" font-weight="normal" textLength="23.2" lengthAdjust="spacingAndGlyphs" stroke="#111" stroke-width="0.08">Control</text>
<rect x="96.9" y="306.8" width="5.8" height="37" fill="url(#ylab)"/>
<text x="97.1" y="308.9" font-size="2.6" fill="#555" text-anchor="start" font-weight="normal">100</text>
<rect x="102.7" y="308.3" width="59.9" height="34.8" fill="#fff" stroke="#a0a0a0" stroke-width="0.9"/>
<path d="M102.7 343.1 L102.7 343.1 L103.1 343.1 L103.5 343.1 L103.9 343.1 L104.3 343.1 L104.7 343.1 L105.1 343.1 L105.5 343.1 L105.89 343.1 L106.29 343.1 L106.69 343.1 L107.09 343.1 L107.49 343.1 L107.89 343.1 L108.29 343.1 L108.69 343.1 L109.09 343.1 L109.49 343.1 L109.89 343.1 L110.29 343.1 L110.69 343.1 L111.09 343.1 L111.49 343.1 L111.88 343.1 L112.28 343.1 L112.68 342.26 L113.08 341.25 L113.48 339.95 L113.88 339.14 L114.28 336.89 L114.68 335.34 L115.08 334.2 L115.48 334.13 L115.88 331.53 L116.28 330.72 L116.68 329.57 L117.08 324.65 L117.48 322.56 L117.87 326.23 L118.27 319.58 L118.67 322.38 L119.07 324.79 L119.47 326.38 L119.87 325.43 L120.27 327.6 L120.67 327.65 L121.07 328.87 L121.47 331.95 L121.87 330.68 L122.27 331.1 L122.67 332.28 L123.07 334.3 L123.47 336.59 L123.86 337.22 L124.26 337.29 L124.66 337.53 L125.06 338.96 L125.46 340.23 L125.86 340.25 L126.26 341.63 L126.66 342.21 L127.06 342.57 L127.46 342.76 L127.86 342.82 L128.26 342.54 L128.66 342.43 L129.06 342.35 L129.36 342.48 L129.36 343.1Z" fill="#0a74ec"/>
<path d="M129.36 343.1 L129.36 342.48 L129.46 342.17 L129.85 342.2 L130.25 341.81 L130.65 342.07 L131.05 341.95 L131.45 342.1 L131.85 341.9 L132.25 341.47 L132.65 341.5 L133.05 341.69 L133.45 341.71 L133.85 341.65 L134.25 341.7 L134.65 341.52 L135.05 341.27 L135.45 341.59 L135.84 340.95 L136.24 341.07 L136.64 340.44 L137.04 340.08 L137.44 339.39 L137.84 339.39 L138.24 337.83 L138.64 338.67 L139.04 337.56 L139.44 338.27 L139.84 338.25 L140.24 338.48 L140.64 339.24 L141.04 339.61 L141.44 339.45 L141.83 340.31 L142.23 340.34 L142.63 341.4 L143.03 341.26 L143.43 341.64 L143.83 341.89 L144.23 342.04 L144.63 342.56 L145.03 342.61 L145.43 343.08 L145.83 342.59 L146.23 342.53 L146.63 342.95 L147.03 342.79 L147.43 342.79 L147.82 343.1 L148.22 343.1 L148.62 343.1 L149.02 343.1 L149.42 343.1 L149.82 343.1 L150.22 343.1 L150.62 343.1 L151.02 343.1 L151.42 343.1 L151.82 343.1 L152.22 343.1 L152.62 343.1 L153.02 343.1 L153.42 343.1 L153.81 343.1 L154.21 343.1 L154.61 343.1 L155.01 343.1 L155.41 343.1 L155.81 343.1 L156.21 343.1 L156.61 343.1 L157.01 343.1 L157.41 343.1 L157.81 343.1 L158.21 343.1 L158.61 343.1 L159.01 343.1 L159.41 343.1 L159.8 343.1 L160.2 343.1 L160.6 343.1 L161 343.1 L161.4 343.1 L161.8 343.1 L162.2 343.1 L162.6 343.1 L162.6 343.1Z" fill="#f41818"/>
<line x1="102.7" y1="308.3" x2="102.7" y2="343.1" stroke="#505050" stroke-width="0.8"/>
<line x1="102.7" y1="343.1" x2="162.6" y2="343.1" stroke="#1a1a1a" stroke-width="1.1"/>
<path d="M102.7 343.6V344.6M105.2 343.6V344.6M107.69 343.6V344.6M110.19 343.6V344.6M112.68 343.6V344.6M115.18 343.6V344.6M117.67 343.6V344.6M120.17 343.6V344.6M122.67 343.6V344.6M125.16 343.6V344.6M127.66 343.6V344.6M130.15 343.6V344.6M132.65 343.6V344.6M135.15 343.6V344.6M137.64 343.6V344.6M140.14 343.6V344.6M142.63 343.6V344.6M145.13 343.6V344.6M147.62 343.6V344.6M150.12 343.6V344.6M152.62 343.6V344.6M155.11 343.6V344.6M157.61 343.6V344.6M160.1 343.6V344.6M162.6 343.6V344.6" stroke="#555" stroke-width="0.4"/>
<line x1="110.5" y1="322.5" x2="129.5" y2="322.5" stroke="#1e88f0" stroke-width="1.1"/>
<line x1="110.5" y1="320.7" x2="110.5" y2="324.3" stroke="#1e88f0" stroke-width="1.1"/>
<line x1="129.5" y1="325.5" x2="158.5" y2="325.5" stroke="#ff2222" stroke-width="1.1"/>
<line x1="158.5" y1="323.7" x2="158.5" y2="327.3" stroke="#ff2222" stroke-width="1.1"/>
<line x1="129.5" y1="320.5" x2="129.5" y2="327.3" stroke="#3050a8" stroke-width="1.1"/>
<text x="119.77" y="319.9" font-size="3.4" fill="#555" text-anchor="middle" font-weight="normal">M1</text>
<text x="143.88" y="322.9" font-size="3.4" fill="#555" text-anchor="middle" font-weight="normal">M2</text>
<text x="160.2" y="312.8" font-size="2.9" fill="#1e88f0" text-anchor="end" font-weight="normal" textLength="14.2" lengthAdjust="spacingAndGlyphs" stroke="#1e88f0" stroke-width="0.12">M1: 79.69%</text>
<text x="160.2" y="316.5" font-size="2.9" fill="#ff2222" text-anchor="end" font-weight="normal" textLength="14.2" lengthAdjust="spacingAndGlyphs" stroke="#ff2222" stroke-width="0.12">M2: 20.26%</text>
<text x="102.7" y="349.7" font-size="4.5" fill="#333" text-anchor="middle" font-weight="normal">0</text>
<text x="117.42" y="349.7" font-size="4.5" fill="#333" text-anchor="middle" font-weight="normal">1</text>
<text x="132.15" y="349.7" font-size="4.5" fill="#333" text-anchor="middle" font-weight="normal">2</text>
<text x="146.88" y="349.7" font-size="4.5" fill="#333" text-anchor="middle" font-weight="normal">3</text>
<text x="161.6" y="349.7" font-size="4.5" fill="#333" text-anchor="middle" font-weight="normal">4</text>
<text x="106.1" y="355.5" font-size="3.2" fill="#777" text-anchor="middle" font-weight="normal">Neg</text>
<text x="132.15" y="355.9" font-size="4.6" fill="#444" text-anchor="middle" font-weight="normal">ROS</text>
<text x="158.6" y="355.5" font-size="3.2" fill="#777" text-anchor="middle" font-weight="normal">Pos</text>
<text x="116.2" y="306.3" font-size="7.8" fill="#111" text-anchor="start" font-weight="normal" textLength="28.2" lengthAdjust="spacingAndGlyphs" stroke="#111" stroke-width="0.08">AZD0364</text>
<rect x="23.9" y="373" width="5.8" height="37.8" fill="url(#ylab)"/>
<text x="24.1" y="375.1" font-size="2.6" fill="#555" text-anchor="start" font-weight="normal">100</text>
<rect x="29.7" y="374.5" width="59" height="35.6" fill="#fff" stroke="#a0a0a0" stroke-width="0.9"/>
<path d="M29.7 410.1 L29.7 410.1 L30.09 410.1 L30.49 410.1 L30.88 410.1 L31.27 410.1 L31.67 410.1 L32.06 410.1 L32.45 410.1 L32.85 410.1 L33.24 410.1 L33.63 410.1 L34.03 410.1 L34.42 410.1 L34.81 410.1 L35.21 410.1 L35.6 410.1 L35.99 410.1 L36.39 410.1 L36.78 410.1 L37.17 410.1 L37.57 409.24 L37.96 408.18 L38.35 406.69 L38.75 406.29 L39.14 405.21 L39.53 404 L39.93 404.18 L40.32 402.19 L40.71 400.72 L41.11 398.96 L41.5 401.17 L41.89 399.26 L42.29 399.55 L42.68 394.35 L43.07 395.16 L43.47 399.72 L43.86 394.78 L44.25 395.36 L44.65 397.6 L45.04 398.4 L45.43 401.15 L45.83 402.29 L46.22 400.69 L46.61 403.12 L47.01 403.18 L47.4 403.57 L47.79 404.56 L48.19 403.45 L48.58 403.91 L48.97 403.25 L49.37 404.52 L49.76 404.67 L50.15 405.41 L50.55 405.28 L50.94 403.73 L51.33 404 L51.73 405.76 L52.12 406.39 L52.51 406.45 L52.91 407.04 L53.3 407.36 L53.69 408.62 L54.09 408.31 L54.48 408.72 L54.87 409.48 L55.27 409.67 L55.66 410.1 L55.95 410.1 L55.95 410.1Z" fill="#0a74ec"/>
<path d="M55.95 410.1 L55.95 410.1 L56.05 410.1 L56.45 409.38 L56.84 409.23 L57.23 408.99 L57.63 408.3 L58.02 408.25 L58.41 408.38 L58.81 408.29 L59.2 408.17 L59.59 407.94 L59.99 406.94 L60.38 407.59 L60.77 407.64 L61.17 406.97 L61.56 407.96 L61.95 407.94 L62.35 406.91 L62.74 406.7 L63.13 406.33 L63.53 405.25 L63.92 404.14 L64.31 401.52 L64.71 401.89 L65.1 402.61 L65.49 399.03 L65.89 401.5 L66.28 398.29 L66.67 401.87 L67.07 400.32 L67.46 402.68 L67.85 404.51 L68.25 404.5 L68.64 405.06 L69.03 404.92 L69.43 406.8 L69.82 408.25 L70.21 408.15 L70.61 408.5 L71 408.75 L71.39 409.5 L71.79 409.73 L72.18 410.1 L72.57 410.1 L72.97 410.1 L73.36 410.1 L73.75 410.1 L74.15 410.1 L74.54 410.1 L74.93 410.1 L75.33 410.1 L75.72 410.1 L76.11 410.1 L76.51 410.1 L76.9 410.1 L77.29 410.1 L77.69 410.1 L78.08 410.1 L78.47 410.1 L78.87 410.1 L79.26 410.1 L79.65 410.1 L80.05 410.1 L80.44 410.1 L80.83 410.1 L81.23 410.1 L81.62 410.1 L82.01 410.1 L82.41 410.1 L82.8 410.1 L83.19 410.1 L83.59 410.1 L83.98 410.1 L84.37 410.1 L84.77 410.1 L85.16 410.1 L85.55 410.1 L85.95 410.1 L86.34 410.1 L86.73 410.1 L87.13 410.1 L87.52 410.1 L87.91 410.1 L88.31 410.1 L88.7 410.1 L88.7 410.1Z" fill="#f41818"/>
<line x1="29.7" y1="374.5" x2="29.7" y2="410.1" stroke="#505050" stroke-width="0.8"/>
<line x1="29.7" y1="410.1" x2="88.7" y2="410.1" stroke="#1a1a1a" stroke-width="1.1"/>
<path d="M29.7 410.6V411.6M32.16 410.6V411.6M34.62 410.6V411.6M37.08 410.6V411.6M39.53 410.6V411.6M41.99 410.6V411.6M44.45 410.6V411.6M46.91 410.6V411.6M49.37 410.6V411.6M51.83 410.6V411.6M54.28 410.6V411.6M56.74 410.6V411.6M59.2 410.6V411.6M61.66 410.6V411.6M64.12 410.6V411.6M66.58 410.6V411.6M69.03 410.6V411.6M71.49 410.6V411.6M73.95 410.6V411.6M76.41 410.6V411.6M78.87 410.6V411.6M81.33 410.6V411.6M83.78 410.6V411.6M86.24 410.6V411.6M88.7 410.6V411.6" stroke="#555" stroke-width="0.4"/>
<line x1="37.5" y1="389.5" x2="55.5" y2="389.5" stroke="#1e88f0" stroke-width="1.1"/>
<line x1="37.5" y1="387.7" x2="37.5" y2="391.3" stroke="#1e88f0" stroke-width="1.1"/>
<line x1="55.5" y1="391.5" x2="84.5" y2="391.5" stroke="#ff2222" stroke-width="1.1"/>
<line x1="84.5" y1="389.7" x2="84.5" y2="393.3" stroke="#ff2222" stroke-width="1.1"/>
<line x1="55.5" y1="387.5" x2="55.5" y2="393.3" stroke="#3050a8" stroke-width="1.1"/>
<text x="46.52" y="386.9" font-size="3.4" fill="#555" text-anchor="middle" font-weight="normal">M1</text>
<text x="70.26" y="388.9" font-size="3.4" fill="#555" text-anchor="middle" font-weight="normal">M2</text>
<text x="86.3" y="379" font-size="2.9" fill="#1e88f0" text-anchor="end" font-weight="normal" textLength="14.2" lengthAdjust="spacingAndGlyphs" stroke="#1e88f0" stroke-width="0.12">M1: 56.67%</text>
<text x="86.3" y="382.7" font-size="2.9" fill="#ff2222" text-anchor="end" font-weight="normal" textLength="14.2" lengthAdjust="spacingAndGlyphs" stroke="#ff2222" stroke-width="0.12">M2: 42.79%</text>
<text x="29.7" y="416.7" font-size="4.5" fill="#333" text-anchor="middle" font-weight="normal">0</text>
<text x="44.2" y="416.7" font-size="4.5" fill="#333" text-anchor="middle" font-weight="normal">1</text>
<text x="58.7" y="416.7" font-size="4.5" fill="#333" text-anchor="middle" font-weight="normal">2</text>
<text x="73.2" y="416.7" font-size="4.5" fill="#333" text-anchor="middle" font-weight="normal">3</text>
<text x="87.7" y="416.7" font-size="4.5" fill="#333" text-anchor="middle" font-weight="normal">4</text>
<text x="33.1" y="422.5" font-size="3.2" fill="#777" text-anchor="middle" font-weight="normal">Neg</text>
<text x="58.7" y="422.9" font-size="4.6" fill="#444" text-anchor="middle" font-weight="normal">ROS</text>
<text x="84.7" y="422.5" font-size="3.2" fill="#777" text-anchor="middle" font-weight="normal">Pos</text>
<text x="45.2" y="372.3" font-size="7.8" fill="#111" text-anchor="start" font-weight="normal" textLength="26.2" lengthAdjust="spacingAndGlyphs" stroke="#111" stroke-width="0.08">ZSTK474</text>
<rect x="98.1" y="373.8" width="5.8" height="37" fill="url(#ylab)"/>
<text x="98.3" y="375.9" font-size="2.6" fill="#555" text-anchor="start" font-weight="normal">100</text>
<rect x="103.9" y="375.3" width="59.5" height="34.8" fill="#fff" stroke="#a0a0a0" stroke-width="0.9"/>
<path d="M103.9 410.1 L103.9 410.1 L104.3 410.1 L104.69 410.1 L105.09 410.1 L105.49 410.1 L105.88 410.1 L106.28 410.1 L106.68 410.1 L107.07 410.1 L107.47 410.1 L107.87 410.1 L108.26 410.1 L108.66 410.1 L109.06 410.1 L109.45 410.1 L109.85 410.1 L110.25 410.1 L110.64 410.1 L111.04 410.1 L111.44 410.1 L111.83 410.1 L112.23 410.1 L112.63 410.1 L113.02 410.1 L113.42 409.14 L113.82 407.69 L114.21 406.3 L114.61 406.03 L115.01 405.3 L115.4 403.1 L115.8 402.26 L116.2 398.75 L116.59 397.88 L116.99 396.97 L117.39 395.89 L117.78 393.88 L118.18 396.23 L118.58 393.54 L118.97 396.93 L119.37 392.66 L119.77 399.04 L120.16 395.83 L120.56 400.96 L120.96 399.33 L121.35 402.09 L121.75 402.88 L122.15 402.32 L122.54 405.61 L122.94 406.38 L123.34 404.13 L123.73 404.62 L124.13 405.32 L124.53 402.68 L124.92 405.11 L125.32 405.93 L125.72 405.42 L126.11 405.85 L126.51 407.21 L126.91 407.37 L127.3 407.68 L127.7 408.4 L128.1 408.72 L128.49 409.22 L128.89 409.9 L129.29 410.1 L129.68 410.1 L130.08 409.43 L130.38 409.02 L130.38 410.1Z" fill="#0a74ec"/>
<path d="M130.38 410.1 L130.38 409.02 L130.48 409.04 L130.87 408.52 L131.27 408.22 L131.67 407.66 L132.06 407.71 L132.46 407.6 L132.86 406.99 L133.25 407.07 L133.65 406.7 L134.05 407.39 L134.44 407.04 L134.84 407.4 L135.24 407.74 L135.63 407.14 L136.03 407.33 L136.43 407.56 L136.82 407.8 L137.22 405.5 L137.62 405.53 L138.01 404.29 L138.41 404.35 L138.81 401.53 L139.2 398.8 L139.6 401.65 L140 396.45 L140.39 395.73 L140.79 394.96 L141.19 395.92 L141.58 395.78 L141.98 400.69 L142.38 398.3 L142.77 399.08 L143.17 401.08 L143.57 403.64 L143.96 404.84 L144.36 405.96 L144.76 407.63 L145.15 408.71 L145.55 408.86 L145.95 409.6 L146.34 410.1 L146.74 410.1 L147.14 410.1 L147.53 410.1 L147.93 410.1 L148.33 410.1 L148.72 410.1 L149.12 410.1 L149.52 410.1 L149.91 410.1 L150.31 410.1 L150.71 410.1 L151.1 410.1 L151.5 410.1 L151.9 410.1 L152.29 410.1 L152.69 410.1 L153.09 410.1 L153.48 410.1 L153.88 410.1 L154.28 410.1 L154.67 410.1 L155.07 410.1 L155.47 410.1 L155.86 410.1 L156.26 410.1 L156.66 410.1 L157.05 410.1 L157.45 410.1 L157.85 410.1 L158.24 410.1 L158.64 410.1 L159.04 410.1 L159.43 410.1 L159.83 410.1 L160.23 410.1 L160.62 410.1 L161.02 410.1 L161.42 410.1 L161.81 410.1 L162.21 410.1 L162.61 410.1 L163 410.1 L163.4 410.1 L163.4 410.1Z" fill="#f41818"/>
<line x1="103.9" y1="375.3" x2="103.9" y2="410.1" stroke="#505050" stroke-width="0.8"/>
<line x1="103.9" y1="410.1" x2="163.4" y2="410.1" stroke="#1a1a1a" stroke-width="1.1"/>
<path d="M103.9 410.6V411.6M106.38 410.6V411.6M108.86 410.6V411.6M111.34 410.6V411.6M113.82 410.6V411.6M116.3 410.6V411.6M118.78 410.6V411.6M121.25 410.6V411.6M123.73 410.6V411.6M126.21 410.6V411.6M128.69 410.6V411.6M131.17 410.6V411.6M133.65 410.6V411.6M136.13 410.6V411.6M138.61 410.6V411.6M141.09 410.6V411.6M143.57 410.6V411.6M146.05 410.6V411.6M148.53 410.6V411.6M151 410.6V411.6M153.48 410.6V411.6M155.96 410.6V411.6M158.44 410.6V411.6M160.92 410.6V411.6M163.4 410.6V411.6" stroke="#555" stroke-width="0.4"/>
<line x1="111.5" y1="389.5" x2="130.5" y2="389.5" stroke="#1e88f0" stroke-width="1.1"/>
<line x1="111.5" y1="387.7" x2="111.5" y2="391.3" stroke="#1e88f0" stroke-width="1.1"/>
<line x1="130.5" y1="393.5" x2="159.5" y2="393.5" stroke="#ff2222" stroke-width="1.1"/>
<line x1="159.5" y1="391.7" x2="159.5" y2="395.3" stroke="#ff2222" stroke-width="1.1"/>
<line x1="130.5" y1="387.5" x2="130.5" y2="395.3" stroke="#3050a8" stroke-width="1.1"/>
<text x="120.86" y="386.9" font-size="3.4" fill="#555" text-anchor="middle" font-weight="normal">M1</text>
<text x="144.81" y="390.9" font-size="3.4" fill="#555" text-anchor="middle" font-weight="normal">M2</text>
<text x="161" y="379.8" font-size="2.9" fill="#1e88f0" text-anchor="end" font-weight="normal" textLength="14.2" lengthAdjust="spacingAndGlyphs" stroke="#1e88f0" stroke-width="0.12">M1: 58.03%</text>
<text x="161" y="383.5" font-size="2.9" fill="#ff2222" text-anchor="end" font-weight="normal" textLength="14.2" lengthAdjust="spacingAndGlyphs" stroke="#ff2222" stroke-width="0.12">M2: 43.87%</text>
<text x="103.9" y="416.7" font-size="4.5" fill="#333" text-anchor="middle" font-weight="normal">0</text>
<text x="118.53" y="416.7" font-size="4.5" fill="#333" text-anchor="middle" font-weight="normal">1</text>
<text x="133.15" y="416.7" font-size="4.5" fill="#333" text-anchor="middle" font-weight="normal">2</text>
<text x="147.78" y="416.7" font-size="4.5" fill="#333" text-anchor="middle" font-weight="normal">3</text>
<text x="162.4" y="416.7" font-size="4.5" fill="#333" text-anchor="middle" font-weight="normal">4</text>
<text x="107.3" y="422.5" font-size="3.2" fill="#777" text-anchor="middle" font-weight="normal">Neg</text>
<text x="133.15" y="422.9" font-size="4.6" fill="#444" text-anchor="middle" font-weight="normal">ROS</text>
<text x="159.4" y="422.5" font-size="3.2" fill="#777" text-anchor="middle" font-weight="normal">Pos</text>
<text x="103.1" y="373.3" font-size="7.8" fill="#111" text-anchor="start" font-weight="normal" textLength="62.5" lengthAdjust="spacingAndGlyphs" stroke="#111" stroke-width="0.08">AZD0364 + ZSTK474</text>
<text x="223" y="107.4" font-size="5.3" fill="#9a9a9a" text-anchor="end" font-weight="normal">0</text>
<line x1="224.8" y1="105.5" x2="226" y2="105.5" stroke="#d8d8d8" stroke-width="0.5"/>
<text x="223" y="97.88" font-size="5.3" fill="#9a9a9a" text-anchor="end" font-weight="normal">5</text>
<line x1="224.8" y1="95.97" x2="226" y2="95.97" stroke="#d8d8d8" stroke-width="0.5"/>
<text x="223" y="88.35" font-size="5.3" fill="#9a9a9a" text-anchor="end" font-weight="normal">10</text>
<line x1="224.8" y1="86.45" x2="226" y2="86.45" stroke="#d8d8d8" stroke-width="0.5"/>
<text x="223" y="78.83" font-size="5.3" fill="#9a9a9a" text-anchor="end" font-weight="normal">15</text>
<line x1="224.8" y1="76.92" x2="226" y2="76.92" stroke="#d8d8d8" stroke-width="0.5"/>
<text x="223" y="69.3" font-size="5.3" fill="#9a9a9a" text-anchor="end" font-weight="normal">20</text>
<line x1="224.8" y1="67.4" x2="226" y2="67.4" stroke="#d8d8d8" stroke-width="0.5"/>
<text x="223" y="59.77" font-size="5.3" fill="#9a9a9a" text-anchor="end" font-weight="normal">25</text>
<line x1="224.8" y1="57.88" x2="226" y2="57.88" stroke="#d8d8d8" stroke-width="0.5"/>
<text x="223" y="50.25" font-size="5.3" fill="#9a9a9a" text-anchor="end" font-weight="normal">30</text>
<line x1="224.8" y1="48.35" x2="226" y2="48.35" stroke="#d8d8d8" stroke-width="0.5"/>
<text x="223" y="40.73" font-size="5.3" fill="#9a9a9a" text-anchor="end" font-weight="normal">35</text>
<line x1="224.8" y1="38.83" x2="226" y2="38.83" stroke="#d8d8d8" stroke-width="0.5"/>
<text x="223" y="31.2" font-size="5.3" fill="#9a9a9a" text-anchor="end" font-weight="normal">40</text>
<line x1="224.8" y1="29.3" x2="226" y2="29.3" stroke="#d8d8d8" stroke-width="0.5"/>
<line x1="226" y1="29.3" x2="226" y2="105.5" stroke="#d8d8d8" stroke-width="0.7"/>
<line x1="226" y1="105.5" x2="363" y2="105.5" stroke="#d8d8d8" stroke-width="0.7"/>
<line x1="244.4" y1="92" x2="244.4" y2="93.9" stroke="#777" stroke-width="0.5"/>
<line x1="243" y1="92" x2="245.8" y2="92" stroke="#777" stroke-width="0.5"/>
<rect x="235.4" y="93.9" width="18" height="11.6" fill="#818181"/>
<line x1="278.9" y1="84.2" x2="278.9" y2="85.8" stroke="#777" stroke-width="0.5"/>
<line x1="277.5" y1="84.2" x2="280.3" y2="84.2" stroke="#777" stroke-width="0.5"/>
<rect x="270" y="85.8" width="17.8" height="19.7" fill="#818181"/>
<line x1="313.4" y1="80" x2="313.4" y2="82.1" stroke="#777" stroke-width="0.5"/>
<line x1="312" y1="80" x2="314.8" y2="80" stroke="#777" stroke-width="0.5"/>
<rect x="304.6" y="82.1" width="17.6" height="23.4" fill="#818181"/>
<line x1="347.85" y1="41.2" x2="347.85" y2="43.5" stroke="#777" stroke-width="0.5"/>
<line x1="346.45" y1="41.2" x2="349.25" y2="41.2" stroke="#777" stroke-width="0.5"/>
<rect x="338.9" y="43.5" width="17.9" height="62" fill="#818181"/>
<circle cx="278.6" cy="80.8" r="0.95" fill="#111"/>
<circle cx="311.6" cy="76.5" r="0.95" fill="#111"/>
<circle cx="314.8" cy="76.5" r="0.95" fill="#111"/>
<circle cx="346.5" cy="37.05" r="0.95" fill="#111"/>
<circle cx="349.7" cy="37.05" r="0.95" fill="#111"/>
<text x="348.1" y="34.75" font-size="5.4" fill="#222" text-anchor="middle" font-weight="bold" textLength="6" lengthAdjust="spacingAndGlyphs">##</text>
<text x="348.1" y="29" font-size="6.8" fill="#222" text-anchor="middle" font-weight="normal" textLength="6.8" lengthAdjust="spacingAndGlyphs" stroke="#222" stroke-width="0.12">$$</text>
<text x="234.7" y="115.7" font-size="6.5" fill="#111" text-anchor="start" font-weight="bold" textLength="19.4" lengthAdjust="spacingAndGlyphs">Control</text>
<text x="266.7" y="115.7" font-size="6.5" fill="#111" text-anchor="start" font-weight="bold" textLength="23.9" lengthAdjust="spacingAndGlyphs">AZD0364</text>
<text x="302.3" y="115.7" font-size="6.5" fill="#111" text-anchor="start" font-weight="bold" textLength="22.2" lengthAdjust="spacingAndGlyphs">ZSTK474</text>
<text x="333.9" y="115.7" font-size="6.5" fill="#111" text-anchor="start" font-weight="bold" textLength="28.2" lengthAdjust="spacingAndGlyphs">AZD0364 +</text>
<text x="336.7" y="123.3" font-size="6.5" fill="#111" text-anchor="start" font-weight="bold" textLength="21.3" lengthAdjust="spacingAndGlyphs">ZSTK474</text>
<text x="190.6" y="9.1" font-size="8" fill="#000" text-anchor="start" font-weight="bold" textLength="13.5" lengthAdjust="spacingAndGlyphs">REH</text>
<text transform="translate(212.6,104.4) rotate(-90)" font-size="6.6" font-weight="bold" fill="#111" textLength="75.4" lengthAdjust="spacingAndGlyphs">ROS – positive cells (%)</text>
<text x="223.5" y="255.9" font-size="5.3" fill="#9a9a9a" text-anchor="end" font-weight="normal">0</text>
<line x1="226.05" y1="254" x2="227.25" y2="254" stroke="#d8d8d8" stroke-width="0.5"/>
<text x="223.5" y="246.18" font-size="5.3" fill="#9a9a9a" text-anchor="end" font-weight="normal">5</text>
<line x1="226.05" y1="244.28" x2="227.25" y2="244.28" stroke="#d8d8d8" stroke-width="0.5"/>
<text x="223.5" y="236.46" font-size="5.3" fill="#9a9a9a" text-anchor="end" font-weight="normal">10</text>
<line x1="226.05" y1="234.56" x2="227.25" y2="234.56" stroke="#d8d8d8" stroke-width="0.5"/>
<text x="223.5" y="226.74" font-size="5.3" fill="#9a9a9a" text-anchor="end" font-weight="normal">15</text>
<line x1="226.05" y1="224.84" x2="227.25" y2="224.84" stroke="#d8d8d8" stroke-width="0.5"/>
<text x="223.5" y="217.03" font-size="5.3" fill="#9a9a9a" text-anchor="end" font-weight="normal">20</text>
<line x1="226.05" y1="215.12" x2="227.25" y2="215.12" stroke="#d8d8d8" stroke-width="0.5"/>
<text x="223.5" y="207.31" font-size="5.3" fill="#9a9a9a" text-anchor="end" font-weight="normal">25</text>
<line x1="226.05" y1="205.41" x2="227.25" y2="205.41" stroke="#d8d8d8" stroke-width="0.5"/>
<text x="223.5" y="197.59" font-size="5.3" fill="#9a9a9a" text-anchor="end" font-weight="normal">30</text>
<line x1="226.05" y1="195.69" x2="227.25" y2="195.69" stroke="#d8d8d8" stroke-width="0.5"/>
<text x="223.5" y="187.87" font-size="5.3" fill="#9a9a9a" text-anchor="end" font-weight="normal">35</text>
<line x1="226.05" y1="185.97" x2="227.25" y2="185.97" stroke="#d8d8d8" stroke-width="0.5"/>
<text x="223.5" y="178.15" font-size="5.3" fill="#9a9a9a" text-anchor="end" font-weight="normal">40</text>
<line x1="226.05" y1="176.25" x2="227.25" y2="176.25" stroke="#d8d8d8" stroke-width="0.5"/>
<line x1="227.25" y1="176.25" x2="227.25" y2="254" stroke="#d8d8d8" stroke-width="0.7"/>
<line x1="227.25" y1="254" x2="367.5" y2="254" stroke="#d8d8d8" stroke-width="0.7"/>
<line x1="246.45" y1="243" x2="246.45" y2="245.75" stroke="#777" stroke-width="0.5"/>
<line x1="245.05" y1="243" x2="247.85" y2="243" stroke="#777" stroke-width="0.5"/>
<rect x="237.5" y="245.75" width="17.9" height="8.25" fill="#818181"/>
<line x1="280.4" y1="234.5" x2="280.4" y2="237.1" stroke="#777" stroke-width="0.5"/>
<line x1="279" y1="234.5" x2="281.8" y2="234.5" stroke="#777" stroke-width="0.5"/>
<rect x="271.2" y="237.1" width="18.4" height="16.9" fill="#818181"/>
<line x1="315.4" y1="227.1" x2="315.4" y2="230.1" stroke="#777" stroke-width="0.5"/>
<line x1="314" y1="227.1" x2="316.8" y2="227.1" stroke="#777" stroke-width="0.5"/>
<rect x="306.1" y="230.1" width="18.6" height="23.9" fill="#818181"/>
<line x1="350.4" y1="181.3" x2="350.4" y2="184.3" stroke="#777" stroke-width="0.5"/>
<line x1="349" y1="181.3" x2="351.8" y2="181.3" stroke="#777" stroke-width="0.5"/>
<rect x="341" y="184.3" width="18.8" height="69.7" fill="#818181"/>
<circle cx="280.5" cy="230.8" r="0.95" fill="#111"/>
<circle cx="313.9" cy="223.4" r="0.95" fill="#111"/>
<circle cx="317.1" cy="223.4" r="0.95" fill="#111"/>
<circle cx="348.6" cy="177.5" r="0.95" fill="#111"/>
<circle cx="351.8" cy="177.5" r="0.95" fill="#111"/>
<text x="350.2" y="174.6" font-size="5.4" fill="#222" text-anchor="middle" font-weight="bold" textLength="6" lengthAdjust="spacingAndGlyphs">##</text>
<text x="350.2" y="169.3" font-size="6.8" fill="#222" text-anchor="middle" font-weight="normal" textLength="6.8" lengthAdjust="spacingAndGlyphs" stroke="#222" stroke-width="0.12">$$</text>
<text x="235.6" y="265" font-size="6.5" fill="#111" text-anchor="start" font-weight="bold" textLength="19.8" lengthAdjust="spacingAndGlyphs">Control</text>
<text x="268.6" y="265" font-size="6.5" fill="#111" text-anchor="start" font-weight="bold" textLength="23.5" lengthAdjust="spacingAndGlyphs">AZD0364</text>
<text x="303.8" y="265" font-size="6.5" fill="#111" text-anchor="start" font-weight="bold" textLength="22.9" lengthAdjust="spacingAndGlyphs">ZSTK474</text>
<text x="335.8" y="265" font-size="6.5" fill="#111" text-anchor="start" font-weight="bold" textLength="29.1" lengthAdjust="spacingAndGlyphs">AZD0364 +</text>
<text x="338.6" y="271.8" font-size="6.5" fill="#111" text-anchor="start" font-weight="bold" textLength="23.1" lengthAdjust="spacingAndGlyphs">ZSTK474</text>
<text x="190.4" y="155.4" font-size="8" fill="#000" text-anchor="start" font-weight="bold" textLength="27.5" lengthAdjust="spacingAndGlyphs">MOLT-4</text>
<text transform="translate(213.4,252.8) rotate(-90)" font-size="6.6" font-weight="bold" fill="#111" textLength="75.4" lengthAdjust="spacingAndGlyphs">ROS – positive cells (%)</text>
<text x="224.2" y="399.6" font-size="5.3" fill="#9a9a9a" text-anchor="end" font-weight="normal">0</text>
<line x1="227.8" y1="397.7" x2="229" y2="397.7" stroke="#d8d8d8" stroke-width="0.5"/>
<text x="224.2" y="391.58" font-size="5.3" fill="#9a9a9a" text-anchor="end" font-weight="normal">5</text>
<line x1="227.8" y1="389.68" x2="229" y2="389.68" stroke="#d8d8d8" stroke-width="0.5"/>
<text x="224.2" y="383.56" font-size="5.3" fill="#9a9a9a" text-anchor="end" font-weight="normal">10</text>
<line x1="227.8" y1="381.66" x2="229" y2="381.66" stroke="#d8d8d8" stroke-width="0.5"/>
<text x="224.2" y="375.54" font-size="5.3" fill="#9a9a9a" text-anchor="end" font-weight="normal">15</text>
<line x1="227.8" y1="373.64" x2="229" y2="373.64" stroke="#d8d8d8" stroke-width="0.5"/>
<text x="224.2" y="367.52" font-size="5.3" fill="#9a9a9a" text-anchor="end" font-weight="normal">20</text>
<line x1="227.8" y1="365.62" x2="229" y2="365.62" stroke="#d8d8d8" stroke-width="0.5"/>
<text x="224.2" y="359.5" font-size="5.3" fill="#9a9a9a" text-anchor="end" font-weight="normal">25</text>
<line x1="227.8" y1="357.6" x2="229" y2="357.6" stroke="#d8d8d8" stroke-width="0.5"/>
<text x="224.2" y="351.48" font-size="5.3" fill="#9a9a9a" text-anchor="end" font-weight="normal">30</text>
<line x1="227.8" y1="349.58" x2="229" y2="349.58" stroke="#d8d8d8" stroke-width="0.5"/>
<text x="224.2" y="343.46" font-size="5.3" fill="#9a9a9a" text-anchor="end" font-weight="normal">35</text>
<line x1="227.8" y1="341.56" x2="229" y2="341.56" stroke="#d8d8d8" stroke-width="0.5"/>
<text x="224.2" y="335.44" font-size="5.3" fill="#9a9a9a" text-anchor="end" font-weight="normal">40</text>
<line x1="227.8" y1="333.54" x2="229" y2="333.54" stroke="#d8d8d8" stroke-width="0.5"/>
<text x="224.2" y="327.42" font-size="5.3" fill="#9a9a9a" text-anchor="end" font-weight="normal">45</text>
<line x1="227.8" y1="325.52" x2="229" y2="325.52" stroke="#d8d8d8" stroke-width="0.5"/>
<text x="224.2" y="319.4" font-size="5.3" fill="#9a9a9a" text-anchor="end" font-weight="normal">50</text>
<line x1="227.8" y1="317.5" x2="229" y2="317.5" stroke="#d8d8d8" stroke-width="0.5"/>
<line x1="229" y1="317.5" x2="229" y2="397.7" stroke="#d8d8d8" stroke-width="0.7"/>
<line x1="229" y1="397.7" x2="367.5" y2="397.7" stroke="#d8d8d8" stroke-width="0.7"/>
<line x1="246.65" y1="377" x2="246.65" y2="379.25" stroke="#777" stroke-width="0.5"/>
<line x1="245.25" y1="377" x2="248.05" y2="377" stroke="#777" stroke-width="0.5"/>
<rect x="237.9" y="379.25" width="17.5" height="18.45" fill="#818181"/>
<line x1="280.95" y1="361.3" x2="280.95" y2="364.5" stroke="#777" stroke-width="0.5"/>
<line x1="279.55" y1="361.3" x2="282.35" y2="361.3" stroke="#777" stroke-width="0.5"/>
<rect x="272" y="364.5" width="17.9" height="33.2" fill="#818181"/>
<line x1="315.5" y1="326.1" x2="315.5" y2="329.7" stroke="#777" stroke-width="0.5"/>
<line x1="314.1" y1="326.1" x2="316.9" y2="326.1" stroke="#777" stroke-width="0.5"/>
<rect x="306.5" y="329.7" width="18" height="68" fill="#818181"/>
<line x1="350.45" y1="325.3" x2="350.45" y2="328.1" stroke="#777" stroke-width="0.5"/>
<line x1="349.05" y1="325.3" x2="351.85" y2="325.3" stroke="#777" stroke-width="0.5"/>
<rect x="341.4" y="328.1" width="18.1" height="69.6" fill="#818181"/>
<circle cx="280.9" cy="357.7" r="0.95" fill="#111"/>
<circle cx="314" cy="322.9" r="0.95" fill="#111"/>
<circle cx="317.2" cy="322.9" r="0.95" fill="#111"/>
<text x="315.6" y="320.1" font-size="5.4" fill="#222" text-anchor="middle" font-weight="bold" textLength="6" lengthAdjust="spacingAndGlyphs">##</text>
<circle cx="348.55" cy="321.6" r="0.95" fill="#111"/>
<circle cx="351.75" cy="321.6" r="0.95" fill="#111"/>
<text x="350.2" y="318.5" font-size="5.4" fill="#222" text-anchor="middle" font-weight="bold" textLength="6" lengthAdjust="spacingAndGlyphs">##</text>
<text x="236.6" y="408.3" font-size="6.5" fill="#111" text-anchor="start" font-weight="bold" textLength="19.7" lengthAdjust="spacingAndGlyphs">Control</text>
<text x="269.1" y="408.3" font-size="6.5" fill="#111" text-anchor="start" font-weight="bold" textLength="23.9" lengthAdjust="spacingAndGlyphs">AZD0364</text>
<text x="304.1" y="408.3" font-size="6.5" fill="#111" text-anchor="start" font-weight="bold" textLength="23.2" lengthAdjust="spacingAndGlyphs">ZSTK474</text>
<text x="336.1" y="408.3" font-size="6.5" fill="#111" text-anchor="start" font-weight="bold" textLength="28.8" lengthAdjust="spacingAndGlyphs">AZD0364 +</text>
<text x="338.6" y="414.8" font-size="6.5" fill="#111" text-anchor="start" font-weight="bold" textLength="23.5" lengthAdjust="spacingAndGlyphs">ZSTK474</text>
<text x="190.4" y="295.1" font-size="8" fill="#000" text-anchor="start" font-weight="bold" textLength="34.7" lengthAdjust="spacingAndGlyphs">MOLM-14</text>
<text transform="translate(212.6,394.4) rotate(-90)" font-size="6.6" font-weight="bold" fill="#111" textLength="74.6" lengthAdjust="spacingAndGlyphs">ROS – positive cells (%)</text>
<text x="82.5" y="537.1" font-size="4.6" fill="#9a9a9a" text-anchor="end" font-weight="normal">0</text>
<text x="82.5" y="489.8" font-size="4.6" fill="#9a9a9a" text-anchor="end" font-weight="normal">1</text>
<text x="82.5" y="442.5" font-size="4.6" fill="#9a9a9a" text-anchor="end" font-weight="normal">2</text>
<line x1="86" y1="440.9" x2="86" y2="535.5" stroke="#d8d8d8" stroke-width="0.7"/>
<line x1="86" y1="535.5" x2="298.75" y2="535.5" stroke="#d8d8d8" stroke-width="0.7"/>
<line x1="102.4" y1="465" x2="102.4" y2="471" stroke="#888" stroke-width="0.5"/>
<line x1="101.2" y1="465" x2="103.6" y2="465" stroke="#888" stroke-width="0.5"/>
<rect x="97.55" y="471" width="9.7" height="64.5" fill="#fff" stroke="#9a9a9a" stroke-width="0.5"/>
<line x1="115.1" y1="501" x2="115.1" y2="505.75" stroke="#888" stroke-width="0.5"/>
<line x1="113.9" y1="501" x2="116.3" y2="501" stroke="#888" stroke-width="0.5"/>
<rect x="110.25" y="505.75" width="9.7" height="29.75" fill="#d2d2d2" stroke="#c4c4c4" stroke-width="0.5"/>
<line x1="128.1" y1="510" x2="128.1" y2="515" stroke="#888" stroke-width="0.5"/>
<line x1="126.9" y1="510" x2="129.3" y2="510" stroke="#888" stroke-width="0.5"/>
<rect x="123.25" y="515" width="9.7" height="20.5" fill="#828282" stroke="#777" stroke-width="0.5"/>
<line x1="141.1" y1="522.5" x2="141.1" y2="525" stroke="#888" stroke-width="0.5"/>
<line x1="139.9" y1="522.5" x2="142.3" y2="522.5" stroke="#888" stroke-width="0.5"/>
<rect x="136.25" y="525" width="9.7" height="10.5" fill="#050505" stroke="#000" stroke-width="0.5"/>
<line x1="173.1" y1="486" x2="173.1" y2="490.5" stroke="#888" stroke-width="0.5"/>
<line x1="171.9" y1="486" x2="174.3" y2="486" stroke="#888" stroke-width="0.5"/>
<rect x="168.25" y="490.5" width="9.7" height="45" fill="#fff" stroke="#9a9a9a" stroke-width="0.5"/>
<line x1="185.4" y1="476" x2="185.4" y2="482" stroke="#888" stroke-width="0.5"/>
<line x1="184.2" y1="476" x2="186.6" y2="476" stroke="#888" stroke-width="0.5"/>
<rect x="180.55" y="482" width="9.7" height="53.5" fill="#d2d2d2" stroke="#c4c4c4" stroke-width="0.5"/>
<line x1="198.1" y1="506" x2="198.1" y2="512" stroke="#888" stroke-width="0.5"/>
<line x1="196.9" y1="506" x2="199.3" y2="506" stroke="#888" stroke-width="0.5"/>
<rect x="193.25" y="512" width="9.7" height="23.5" fill="#828282" stroke="#777" stroke-width="0.5"/>
<line x1="211.1" y1="519.5" x2="211.1" y2="522.5" stroke="#888" stroke-width="0.5"/>
<line x1="209.9" y1="519.5" x2="212.3" y2="519.5" stroke="#888" stroke-width="0.5"/>
<rect x="206.25" y="522.5" width="9.7" height="13" fill="#050505" stroke="#000" stroke-width="0.5"/>
<line x1="243.6" y1="487" x2="243.6" y2="492.5" stroke="#888" stroke-width="0.5"/>
<line x1="242.4" y1="487" x2="244.8" y2="487" stroke="#888" stroke-width="0.5"/>
<rect x="238.75" y="492.5" width="9.7" height="43" fill="#fff" stroke="#9a9a9a" stroke-width="0.5"/>
<line x1="256.35" y1="475" x2="256.35" y2="480" stroke="#888" stroke-width="0.5"/>
<line x1="255.15" y1="475" x2="257.55" y2="475" stroke="#888" stroke-width="0.5"/>
<rect x="251.5" y="480" width="9.7" height="55.5" fill="#d2d2d2" stroke="#c4c4c4" stroke-width="0.5"/>
<line x1="269.35" y1="473" x2="269.35" y2="483" stroke="#888" stroke-width="0.5"/>
<line x1="268.15" y1="473" x2="270.55" y2="473" stroke="#888" stroke-width="0.5"/>
<rect x="264.5" y="483" width="9.7" height="52.5" fill="#828282" stroke="#777" stroke-width="0.5"/>
<line x1="282.1" y1="465" x2="282.1" y2="472.5" stroke="#888" stroke-width="0.5"/>
<line x1="280.9" y1="465" x2="283.3" y2="465" stroke="#888" stroke-width="0.5"/>
<rect x="277.25" y="472.5" width="9.7" height="63" fill="#050505" stroke="#000" stroke-width="0.5"/>
<circle cx="114.1" cy="498.4" r="0.85" fill="#111"/>
<circle cx="117.1" cy="498.4" r="0.85" fill="#111"/>
<circle cx="126.7" cy="508" r="0.85" fill="#111"/>
<circle cx="129.7" cy="508" r="0.85" fill="#111"/>
<text x="128.2" y="504.05" font-size="4.97" fill="#222" text-anchor="middle" font-weight="bold">#</text>
<circle cx="139.6" cy="520.5" r="0.85" fill="#111"/>
<circle cx="142.6" cy="520.5" r="0.85" fill="#111"/>
<text x="141.1" y="516.55" font-size="4.97" fill="#222" text-anchor="middle" font-weight="bold" textLength="5.52" lengthAdjust="spacingAndGlyphs">##</text>
<text x="141.1" y="510.7" font-size="6.26" fill="#222" text-anchor="middle" font-weight="normal" textLength="6.26" lengthAdjust="spacingAndGlyphs" stroke="#222" stroke-width="0.12">$$</text>
<circle cx="196.7" cy="504.5" r="0.85" fill="#111"/>
<circle cx="199.7" cy="504.5" r="0.85" fill="#111"/>
<text x="198.2" y="500.5" font-size="4.97" fill="#222" text-anchor="middle" font-weight="bold" textLength="5.52" lengthAdjust="spacingAndGlyphs">##</text>
<circle cx="209.7" cy="517.5" r="0.85" fill="#111"/>
<circle cx="212.7" cy="517.5" r="0.85" fill="#111"/>
<text x="211.2" y="514.25" font-size="4.97" fill="#222" text-anchor="middle" font-weight="bold" textLength="5.52" lengthAdjust="spacingAndGlyphs">##</text>
<text x="211.2" y="508.6" font-size="6.26" fill="#222" text-anchor="middle" font-weight="normal" textLength="6.26" lengthAdjust="spacingAndGlyphs" stroke="#222" stroke-width="0.12">$$</text>
<circle cx="256.3" cy="471.8" r="0.85" fill="#111"/>
<circle cx="282" cy="462" r="0.85" fill="#111"/>
<text x="116.7" y="545.8" font-size="6.3" fill="#111" text-anchor="start" font-weight="bold" textLength="10.7" lengthAdjust="spacingAndGlyphs">REH</text>
<text x="180.6" y="545.8" font-size="6.3" fill="#111" text-anchor="start" font-weight="bold" textLength="21.6" lengthAdjust="spacingAndGlyphs">MOLT-4</text>
<text x="249.2" y="545.8" font-size="6.3" fill="#111" text-anchor="start" font-weight="bold" textLength="24.7" lengthAdjust="spacingAndGlyphs">MOLM-14</text>
<rect x="116.2" y="445.3" width="3.2" height="3.6" fill="#fff" stroke="#999" stroke-width="0.6"/>
<text x="120.9" y="449.5" font-size="6.8" fill="#2a2a2a" text-anchor="start" font-weight="normal" textLength="21.8" lengthAdjust="spacingAndGlyphs" stroke="#2a2a2a" stroke-width="0.15">Control</text>
<rect x="146.2" y="445.3" width="3.2" height="3.6" fill="#d8d8d8" stroke="#a8a8a8" stroke-width="0.6"/>
<text x="151.1" y="449.5" font-size="6.8" fill="#2a2a2a" text-anchor="start" font-weight="normal" textLength="26.2" lengthAdjust="spacingAndGlyphs" stroke="#2a2a2a" stroke-width="0.15">AZD0364</text>
<rect x="180.4" y="445.3" width="3.2" height="3.6" fill="#828282" stroke="#666" stroke-width="0.6"/>
<text x="185" y="449.5" font-size="6.8" fill="#2a2a2a" text-anchor="start" font-weight="normal" textLength="23.3" lengthAdjust="spacingAndGlyphs" stroke="#2a2a2a" stroke-width="0.15">ZSTK474</text>
<rect x="213.4" y="445.3" width="3.2" height="3.6" fill="#000" stroke="#000" stroke-width="0.6"/>
<text x="219.2" y="449.5" font-size="6.8" fill="#2a2a2a" text-anchor="start" font-weight="normal" textLength="55.6" lengthAdjust="spacingAndGlyphs" stroke="#2a2a2a" stroke-width="0.15">AZD0364 + ZSTK474</text>
<text transform="translate(75.2,527) rotate(-90)" font-size="6.6" font-weight="bold" fill="#111" textLength="72" lengthAdjust="spacingAndGlyphs">GSH/GSSG ratio (RLU)</text>
</svg></body></html>
